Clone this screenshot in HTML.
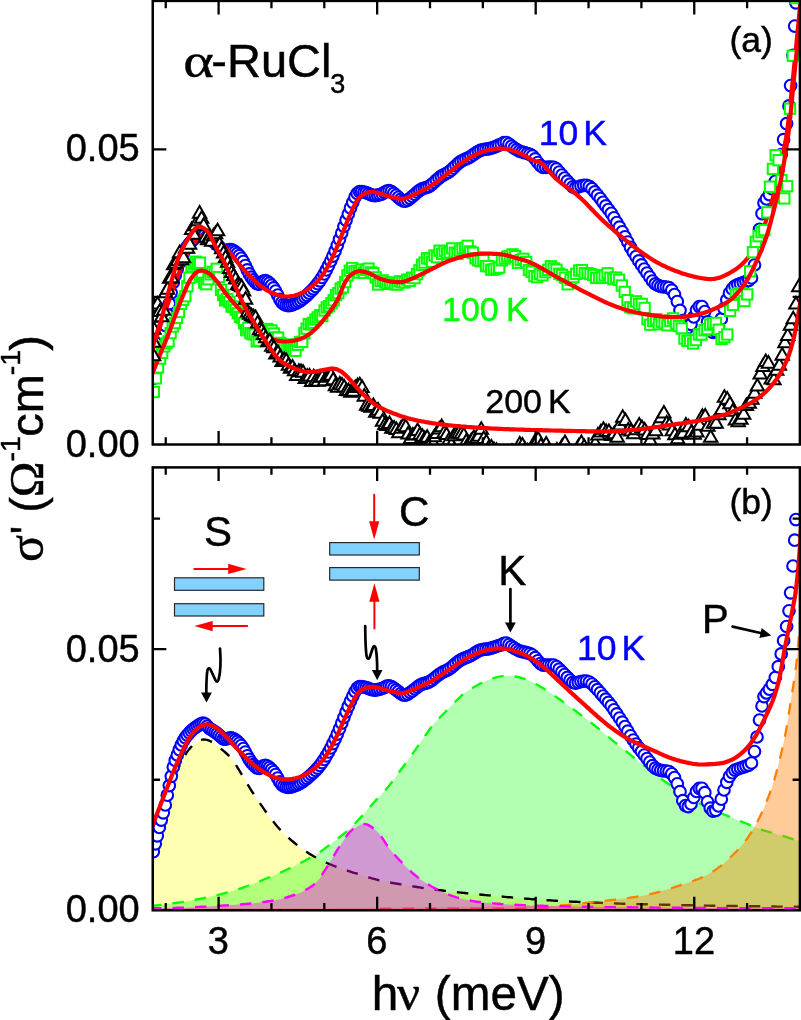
<!DOCTYPE html>
<html><head><meta charset="utf-8"><title>alpha-RuCl3 optical conductivity</title>
<style>html,body{margin:0;padding:0;background:#fff}svg{display:block}text{font-family:"Liberation Sans",sans-serif;fill:#000;stroke:#000;stroke-width:0.45px}.sy{font-family:"Liberation Serif",serif}</style></head><body>
<svg width="801" height="1020" viewBox="0 0 801 1020">
<rect width="801" height="1020" fill="#fff"/>
<defs>
<clipPath id="ca"><rect x="152.75" y="0.9" width="647.15" height="443.6"/></clipPath>
<clipPath id="cb"><rect x="152.75" y="467.4" width="647.15" height="442.9"/></clipPath>
<circle id="c" r="5.8" fill="#fff" stroke="#0000ff" stroke-width="2.1"/>
<rect id="s" x="-5.15" y="-5.15" width="10.3" height="10.3" fill="#fff" stroke="#00ff00" stroke-width="2"/>
<path id="t" d="M0,-7.68 L6.65,3.84 L-6.65,3.84 Z" fill="#fff" stroke="#000" stroke-width="2" stroke-linejoin="miter"/>
</defs>
<g clip-path="url(#ca)">
<g><use href="#c" x="153.3" y="378.3"/><use href="#c" x="155.3" y="369.4"/><use href="#c" x="157.3" y="360.3"/><use href="#c" x="159.3" y="350.9"/><use href="#c" x="161.3" y="342.5"/><use href="#c" x="163.3" y="334.3"/><use href="#c" x="165.3" y="325.5"/><use href="#c" x="167.3" y="314.4"/><use href="#c" x="169.3" y="303.6"/><use href="#c" x="171.3" y="293.0"/><use href="#c" x="173.3" y="282.5"/><use href="#c" x="175.3" y="275.1"/><use href="#c" x="177.3" y="269.0"/><use href="#c" x="179.3" y="262.9"/><use href="#c" x="181.3" y="257.5"/><use href="#c" x="183.3" y="253.1"/><use href="#c" x="185.3" y="249.4"/><use href="#c" x="187.3" y="246.5"/><use href="#c" x="189.3" y="243.9"/><use href="#c" x="191.3" y="241.6"/><use href="#c" x="193.3" y="239.6"/><use href="#c" x="195.3" y="237.8"/><use href="#c" x="197.3" y="236.3"/><use href="#c" x="199.3" y="234.8"/><use href="#c" x="201.3" y="233.6"/><use href="#c" x="203.3" y="233.0"/><use href="#c" x="205.3" y="234.0"/><use href="#c" x="207.3" y="236.4"/><use href="#c" x="209.3" y="238.8"/><use href="#c" x="211.3" y="240.2"/><use href="#c" x="213.3" y="241.6"/><use href="#c" x="215.3" y="243.1"/><use href="#c" x="217.3" y="244.8"/><use href="#c" x="219.3" y="246.8"/><use href="#c" x="221.3" y="248.9"/><use href="#c" x="223.3" y="250.6"/><use href="#c" x="225.3" y="250.9"/><use href="#c" x="227.3" y="250.4"/><use href="#c" x="229.3" y="249.7"/><use href="#c" x="231.3" y="249.5"/><use href="#c" x="233.3" y="250.5"/><use href="#c" x="235.3" y="251.9"/><use href="#c" x="237.3" y="253.6"/><use href="#c" x="239.3" y="255.7"/><use href="#c" x="241.3" y="258.3"/><use href="#c" x="243.3" y="261.6"/><use href="#c" x="245.3" y="265.6"/><use href="#c" x="247.3" y="269.9"/><use href="#c" x="249.3" y="273.9"/><use href="#c" x="251.3" y="277.2"/><use href="#c" x="253.3" y="279.9"/><use href="#c" x="255.3" y="282.1"/><use href="#c" x="257.3" y="283.8"/><use href="#c" x="259.3" y="284.1"/><use href="#c" x="261.4" y="282.8"/><use href="#c" x="263.4" y="281.2"/><use href="#c" x="265.4" y="280.5"/><use href="#c" x="267.5" y="281.5"/><use href="#c" x="269.5" y="283.2"/><use href="#c" x="271.5" y="285.3"/><use href="#c" x="273.6" y="287.9"/><use href="#c" x="275.6" y="291.0"/><use href="#c" x="277.7" y="295.1"/><use href="#c" x="279.8" y="299.3"/><use href="#c" x="281.8" y="302.5"/><use href="#c" x="283.9" y="304.2"/><use href="#c" x="286.0" y="305.2"/><use href="#c" x="288.1" y="305.6"/><use href="#c" x="290.1" y="305.4"/><use href="#c" x="292.2" y="304.8"/><use href="#c" x="294.3" y="304.0"/><use href="#c" x="296.4" y="303.1"/><use href="#c" x="298.5" y="302.0"/><use href="#c" x="300.6" y="300.6"/><use href="#c" x="302.8" y="299.0"/><use href="#c" x="304.9" y="297.2"/><use href="#c" x="307.0" y="295.3"/><use href="#c" x="309.1" y="293.2"/><use href="#c" x="311.3" y="291.0"/><use href="#c" x="313.4" y="288.8"/><use href="#c" x="315.6" y="286.4"/><use href="#c" x="317.7" y="283.7"/><use href="#c" x="319.9" y="280.8"/><use href="#c" x="322.0" y="277.5"/><use href="#c" x="324.2" y="273.9"/><use href="#c" x="326.3" y="269.9"/><use href="#c" x="328.5" y="265.6"/><use href="#c" x="330.7" y="261.0"/><use href="#c" x="332.9" y="256.1"/><use href="#c" x="335.1" y="250.9"/><use href="#c" x="337.3" y="245.3"/><use href="#c" x="339.5" y="239.3"/><use href="#c" x="341.7" y="233.0"/><use href="#c" x="343.9" y="226.5"/><use href="#c" x="346.1" y="220.1"/><use href="#c" x="348.3" y="214.0"/><use href="#c" x="350.5" y="207.9"/><use href="#c" x="352.8" y="202.3"/><use href="#c" x="355.0" y="197.2"/><use href="#c" x="357.2" y="193.4"/><use href="#c" x="359.5" y="191.6"/><use href="#c" x="361.7" y="191.5"/><use href="#c" x="364.0" y="192.1"/><use href="#c" x="366.2" y="192.7"/><use href="#c" x="368.5" y="193.7"/><use href="#c" x="370.8" y="194.6"/><use href="#c" x="373.0" y="195.4"/><use href="#c" x="375.3" y="195.6"/><use href="#c" x="377.6" y="195.1"/><use href="#c" x="379.9" y="194.6"/><use href="#c" x="382.2" y="193.8"/><use href="#c" x="384.5" y="192.4"/><use href="#c" x="386.8" y="191.1"/><use href="#c" x="389.1" y="190.7"/><use href="#c" x="391.4" y="191.7"/><use href="#c" x="393.8" y="193.4"/><use href="#c" x="396.1" y="195.3"/><use href="#c" x="398.4" y="197.3"/><use href="#c" x="400.7" y="199.4"/><use href="#c" x="403.1" y="200.9"/><use href="#c" x="405.4" y="201.2"/><use href="#c" x="407.8" y="200.1"/><use href="#c" x="410.1" y="198.3"/><use href="#c" x="412.5" y="196.4"/><use href="#c" x="414.9" y="194.3"/><use href="#c" x="417.3" y="192.2"/><use href="#c" x="419.6" y="190.3"/><use href="#c" x="422.0" y="188.9"/><use href="#c" x="424.4" y="188.0"/><use href="#c" x="426.8" y="187.3"/><use href="#c" x="429.2" y="186.3"/><use href="#c" x="431.6" y="184.6"/><use href="#c" x="434.0" y="182.5"/><use href="#c" x="436.4" y="180.2"/><use href="#c" x="438.9" y="178.1"/><use href="#c" x="441.3" y="176.2"/><use href="#c" x="443.7" y="174.8"/><use href="#c" x="446.2" y="173.5"/><use href="#c" x="448.6" y="172.1"/><use href="#c" x="451.1" y="170.2"/><use href="#c" x="453.5" y="167.9"/><use href="#c" x="456.0" y="165.5"/><use href="#c" x="458.5" y="163.2"/><use href="#c" x="460.9" y="161.3"/><use href="#c" x="463.4" y="160.0"/><use href="#c" x="465.9" y="158.9"/><use href="#c" x="468.4" y="157.8"/><use href="#c" x="470.9" y="156.4"/><use href="#c" x="473.4" y="154.7"/><use href="#c" x="475.9" y="152.9"/><use href="#c" x="478.4" y="151.3"/><use href="#c" x="480.9" y="150.1"/><use href="#c" x="483.5" y="149.5"/><use href="#c" x="486.0" y="149.2"/><use href="#c" x="488.5" y="148.9"/><use href="#c" x="491.1" y="148.2"/><use href="#c" x="493.6" y="147.4"/><use href="#c" x="496.2" y="146.3"/><use href="#c" x="498.7" y="145.2"/><use href="#c" x="501.3" y="144.3"/><use href="#c" x="503.9" y="142.7"/><use href="#c" x="506.4" y="142.5"/><use href="#c" x="509.0" y="144.0"/><use href="#c" x="511.6" y="146.2"/><use href="#c" x="514.2" y="148.1"/><use href="#c" x="516.8" y="149.7"/><use href="#c" x="519.4" y="151.1"/><use href="#c" x="522.0" y="152.0"/><use href="#c" x="524.6" y="152.7"/><use href="#c" x="527.3" y="153.5"/><use href="#c" x="529.9" y="154.4"/><use href="#c" x="532.5" y="155.9"/><use href="#c" x="535.2" y="158.9"/><use href="#c" x="537.8" y="162.5"/><use href="#c" x="540.5" y="165.7"/><use href="#c" x="543.1" y="167.4"/><use href="#c" x="545.8" y="167.4"/><use href="#c" x="548.5" y="167.2"/><use href="#c" x="551.2" y="167.2"/><use href="#c" x="553.8" y="167.3"/><use href="#c" x="556.5" y="168.9"/><use href="#c" x="559.2" y="172.0"/><use href="#c" x="561.9" y="175.0"/><use href="#c" x="564.6" y="178.1"/><use href="#c" x="567.4" y="181.2"/><use href="#c" x="570.1" y="184.2"/><use href="#c" x="572.8" y="186.8"/><use href="#c" x="575.5" y="187.8"/><use href="#c" x="578.3" y="186.9"/><use href="#c" x="581.0" y="185.9"/><use href="#c" x="583.8" y="185.4"/><use href="#c" x="586.5" y="185.3"/><use href="#c" x="589.3" y="186.4"/><use href="#c" x="592.0" y="188.7"/><use href="#c" x="594.8" y="191.9"/><use href="#c" x="597.5" y="195.2"/><use href="#c" x="600.3" y="198.6"/><use href="#c" x="603.0" y="202.3"/><use href="#c" x="605.8" y="205.9"/><use href="#c" x="608.5" y="209.5"/><use href="#c" x="611.3" y="213.3"/><use href="#c" x="614.0" y="217.8"/><use href="#c" x="616.8" y="222.5"/><use href="#c" x="619.5" y="227.2"/><use href="#c" x="622.3" y="231.8"/><use href="#c" x="625.0" y="236.8"/><use href="#c" x="627.8" y="242.0"/><use href="#c" x="630.5" y="247.3"/><use href="#c" x="633.3" y="252.0"/><use href="#c" x="636.0" y="256.5"/><use href="#c" x="638.8" y="260.9"/><use href="#c" x="641.5" y="264.9"/><use href="#c" x="644.3" y="269.0"/><use href="#c" x="647.0" y="273.0"/><use href="#c" x="649.8" y="277.0"/><use href="#c" x="652.5" y="281.0"/><use href="#c" x="655.3" y="283.9"/><use href="#c" x="658.0" y="285.3"/><use href="#c" x="660.8" y="286.3"/><use href="#c" x="663.5" y="286.8"/><use href="#c" x="666.3" y="287.0"/><use href="#c" x="669.0" y="287.7"/><use href="#c" x="671.8" y="290.2"/><use href="#c" x="674.5" y="294.5"/><use href="#c" x="677.3" y="301.5"/><use href="#c" x="680.0" y="310.4"/><use href="#c" x="682.8" y="320.6"/><use href="#c" x="685.5" y="326.2"/><use href="#c" x="688.3" y="327.3"/><use href="#c" x="691.0" y="324.3"/><use href="#c" x="693.8" y="317.0"/><use href="#c" x="696.5" y="310.1"/><use href="#c" x="699.3" y="306.6"/><use href="#c" x="702.0" y="306.5"/><use href="#c" x="704.8" y="311.5"/><use href="#c" x="707.5" y="321.9"/><use href="#c" x="710.3" y="329.1"/><use href="#c" x="713.0" y="332.4"/><use href="#c" x="715.8" y="331.4"/><use href="#c" x="718.5" y="326.6"/><use href="#c" x="721.3" y="318.9"/><use href="#c" x="724.0" y="308.5"/><use href="#c" x="726.8" y="299.8"/><use href="#c" x="729.5" y="293.2"/><use href="#c" x="732.3" y="288.9"/><use href="#c" x="735.0" y="286.2"/><use href="#c" x="737.8" y="284.7"/><use href="#c" x="740.5" y="283.7"/><use href="#c" x="743.3" y="282.6"/><use href="#c" x="746.0" y="281.5"/><use href="#c" x="748.8" y="280.4"/><use href="#c" x="751.5" y="278.0"/><use href="#c" x="754.5" y="265.0"/><use href="#c" x="757.0" y="248.6"/><use href="#c" x="759.5" y="229.4"/><use href="#c" x="762.0" y="213.6"/><use href="#c" x="764.0" y="202.9"/><use href="#c" x="766.5" y="198.9"/><use href="#c" x="769.4" y="194.6"/><use href="#c" x="772.4" y="189.0"/><use href="#c" x="775.3" y="181.3"/><use href="#c" x="778.3" y="169.1"/><use href="#c" x="781.2" y="154.7"/><use href="#c" x="783.6" y="139.7"/><use href="#c" x="786.6" y="123.7"/><use href="#c" x="789.0" y="105.9"/><use href="#c" x="790.6" y="85.6"/><use href="#c" x="793.0" y="55.3"/><use href="#c" x="794.7" y="26.1"/><use href="#c" x="795.9" y="2.8"/></g>
<path d="M150.0,356.0 L151.5,351.5 L153.0,347.1 L154.5,342.7 L156.0,338.4 L157.5,334.0 L159.0,329.7 L160.5,325.3 L162.0,320.9 L163.5,316.5 L165.0,312.1 L166.5,307.7 L168.0,303.3 L169.5,299.0 L171.0,294.6 L172.5,290.2 L174.0,286.1 L175.5,282.1 L177.0,278.2 L178.5,274.4 L180.0,270.6 L181.5,267.0 L183.0,263.3 L184.5,259.8 L186.0,256.4 L187.5,253.2 L189.0,250.2 L190.5,247.7 L192.0,245.5 L193.5,243.4 L195.0,241.5 L196.5,239.8 L198.0,238.4 L199.5,237.2 L201.0,236.2 L202.5,235.5 L204.0,234.9 L205.5,234.5 L207.0,234.3 L208.5,234.4 L210.0,234.9 L211.5,235.5 L213.0,236.3 L214.5,237.1 L216.0,238.1 L217.5,239.3 L219.0,240.8 L220.5,242.3 L222.0,243.9 L223.5,245.5 L225.0,247.2 L226.5,249.0 L228.0,250.8 L229.5,252.6 L231.0,254.4 L232.5,256.3 L234.0,258.1 L235.5,259.9 L237.0,261.7 L238.5,263.5 L240.0,265.2 L241.5,266.9 L243.0,268.6 L244.5,270.3 L246.0,272.0 L247.5,273.6 L249.0,275.2 L250.5,276.8 L252.0,278.4 L253.5,279.8 L255.0,281.2 L256.5,282.5 L258.0,283.8 L259.5,285.0 L261.0,286.2 L262.5,287.3 L264.0,288.4 L265.5,289.4 L267.0,290.4 L268.5,291.2 L270.0,292.0 L271.5,292.8 L273.0,293.4 L274.5,294.1 L276.0,294.6 L277.5,295.1 L279.0,295.5 L280.5,295.9 L282.0,296.2 L283.5,296.3 L285.0,296.5 L286.5,296.5 L288.0,296.5 L289.5,296.4 L291.0,296.2 L292.5,296.0 L294.0,295.7 L295.5,295.3 L297.0,294.8 L298.5,294.3 L300.0,293.7 L301.5,293.0 L303.0,292.3 L304.5,291.4 L306.0,290.5 L307.5,289.5 L309.0,288.4 L310.5,287.3 L312.0,286.1 L313.5,284.9 L315.0,283.6 L316.5,282.2 L318.0,280.6 L319.5,278.9 L321.0,277.1 L322.5,275.1 L324.0,272.9 L325.5,270.5 L327.0,268.0 L328.5,265.2 L330.0,262.4 L331.5,259.3 L333.0,256.1 L334.5,252.8 L336.0,249.4 L337.5,245.9 L339.0,242.2 L340.5,238.4 L342.0,234.6 L343.5,230.8 L345.0,227.0 L346.5,223.2 L348.0,219.6 L349.5,216.0 L351.0,212.6 L352.5,209.2 L354.0,206.1 L355.5,203.1 L357.0,200.6 L358.5,198.5 L360.0,196.9 L361.5,195.6 L363.0,194.6 L364.5,193.8 L366.0,193.1 L367.5,192.6 L369.0,192.3 L370.5,192.1 L372.0,191.9 L373.5,191.9 L375.0,192.2 L376.5,192.5 L378.0,192.9 L379.5,193.3 L381.0,193.8 L382.5,194.3 L384.0,194.8 L385.5,195.3 L387.0,195.8 L388.5,196.2 L390.0,196.6 L391.5,197.0 L393.0,197.4 L394.5,197.8 L396.0,198.1 L397.5,198.4 L399.0,198.7 L400.5,198.8 L402.0,198.9 L403.5,198.7 L405.0,198.4 L406.5,198.0 L408.0,197.4 L409.5,196.8 L411.0,196.1 L412.5,195.4 L414.0,194.7 L415.5,194.0 L417.0,193.2 L418.5,192.5 L420.0,191.7 L421.5,191.0 L423.0,190.2 L424.5,189.5 L426.0,188.7 L427.5,187.8 L429.0,187.0 L430.5,186.0 L432.0,185.1 L433.5,184.1 L435.0,183.1 L436.5,182.0 L438.0,180.9 L439.5,179.8 L441.0,178.7 L442.5,177.5 L444.0,176.3 L445.5,175.2 L447.0,174.0 L448.5,172.8 L450.0,171.7 L451.5,170.5 L453.0,169.4 L454.5,168.2 L456.0,167.1 L457.5,166.0 L459.0,164.9 L460.5,163.8 L462.0,162.8 L463.5,161.7 L465.0,160.7 L466.5,159.6 L468.0,158.7 L469.5,157.8 L471.0,157.0 L472.5,156.2 L474.0,155.4 L475.5,154.7 L477.0,154.0 L478.5,153.3 L480.0,152.7 L481.5,152.2 L483.0,151.6 L484.5,151.1 L486.0,150.7 L487.5,150.3 L489.0,149.9 L490.5,149.6 L492.0,149.3 L493.5,149.0 L495.0,148.8 L496.5,148.7 L498.0,148.6 L499.5,148.5 L501.0,148.5 L502.5,148.6 L504.0,148.7 L505.5,148.9 L507.0,149.2 L508.5,149.5 L510.0,149.9 L511.5,150.3 L513.0,150.8 L514.5,151.3 L516.0,151.8 L517.5,152.4 L519.0,153.0 L520.5,153.7 L522.0,154.4 L523.5,155.1 L525.0,155.9 L526.5,156.7 L528.0,157.6 L529.5,158.5 L531.0,159.4 L532.5,160.1 L534.0,160.7 L535.5,161.1 L537.0,161.4 L538.5,161.8 L540.0,162.3 L541.5,163.1 L543.0,164.3 L544.5,165.9 L546.0,167.6 L547.5,169.3 L549.0,171.1 L550.5,172.8 L552.0,174.5 L553.5,176.1 L555.0,177.7 L556.5,179.1 L558.0,180.4 L559.5,181.6 L561.0,182.8 L562.5,184.0 L564.0,185.1 L565.5,186.2 L567.0,187.3 L568.5,188.3 L570.0,189.4 L571.5,190.5 L573.0,191.7 L574.5,192.8 L576.0,194.0 L577.5,195.3 L579.0,196.6 L580.5,198.0 L582.0,199.4 L583.5,200.8 L585.0,202.3 L586.5,203.8 L588.0,205.4 L589.5,206.9 L591.0,208.5 L592.5,210.0 L594.0,211.6 L595.5,213.2 L597.0,214.7 L598.5,216.2 L600.0,217.7 L601.5,219.2 L603.0,220.6 L604.5,222.0 L606.0,223.4 L607.5,224.8 L609.0,226.1 L610.5,227.4 L612.0,228.7 L613.5,230.0 L615.0,231.3 L616.5,232.6 L618.0,233.9 L619.5,235.2 L621.0,236.4 L622.5,237.6 L624.0,238.9 L625.5,240.1 L627.0,241.3 L628.5,242.5 L630.0,243.7 L631.5,244.9 L633.0,246.0 L634.5,247.2 L636.0,248.3 L637.5,249.5 L639.0,250.6 L640.5,251.6 L642.0,252.7 L643.5,253.8 L645.0,254.8 L646.5,255.8 L648.0,256.8 L649.5,257.8 L651.0,258.7 L652.5,259.7 L654.0,260.6 L655.5,261.5 L657.0,262.4 L658.5,263.2 L660.0,264.0 L661.5,264.8 L663.0,265.5 L664.5,266.2 L666.0,266.9 L667.5,267.6 L669.0,268.2 L670.5,268.9 L672.0,269.5 L673.5,270.1 L675.0,270.7 L676.5,271.2 L678.0,271.8 L679.5,272.3 L681.0,272.9 L682.5,273.4 L684.0,273.9 L685.5,274.3 L687.0,274.8 L688.5,275.2 L690.0,275.6 L691.5,276.0 L693.0,276.4 L694.5,276.7 L696.0,277.1 L697.5,277.4 L699.0,277.7 L700.5,278.0 L702.0,278.2 L703.5,278.5 L705.0,278.7 L706.5,278.9 L708.0,279.0 L709.5,279.1 L711.0,279.1 L712.5,279.0 L714.0,278.9 L715.5,278.6 L717.0,278.3 L718.5,277.9 L720.0,277.4 L721.5,276.9 L723.0,276.3 L724.5,275.6 L726.0,274.9 L727.5,274.1 L729.0,273.3 L730.5,272.5 L732.0,271.6 L733.5,270.7 L735.0,269.7 L736.5,268.7 L738.0,267.6 L739.5,266.5 L741.0,265.2 L742.5,263.7 L744.0,262.2 L745.5,260.6 L747.0,258.8 L748.5,257.0 L750.0,255.0 L751.5,252.7 L753.0,250.3 L754.5,247.7 L756.0,244.9 L757.5,242.1 L759.0,239.1 L760.5,235.8 L762.0,232.2 L763.5,228.3 L765.0,223.9 L766.5,219.2 L768.0,214.4 L769.5,209.3 L771.0,204.2 L772.5,199.0 L774.0,193.7 L775.5,188.1 L777.0,182.0 L778.5,175.6 L780.0,168.9 L781.5,162.0 L783.0,154.5 L784.5,146.5 L786.0,138.1 L787.5,128.3 L789.0,116.0 L790.5,102.0 L792.0,87.7 L793.5,73.0 L795.0,58.0 L796.5,42.9 L798.0,27.6 L799.5,12.0 L801.0,-4.1" fill="none" stroke="#f00" stroke-width="4.2" stroke-linejoin="round"/>
<g><use href="#s" x="153.8" y="392.0"/><use href="#s" x="155.9" y="378.4"/><use href="#s" x="158.0" y="367.4"/><use href="#s" x="160.1" y="358.6"/><use href="#s" x="162.2" y="352.9"/><use href="#s" x="164.3" y="346.4"/><use href="#s" x="166.4" y="343.3"/><use href="#s" x="168.5" y="341.4"/><use href="#s" x="170.6" y="333.1"/><use href="#s" x="172.7" y="326.6"/><use href="#s" x="174.8" y="323.1"/><use href="#s" x="176.9" y="317.9"/><use href="#s" x="179.0" y="311.9"/><use href="#s" x="181.1" y="303.9"/><use href="#s" x="183.2" y="299.7"/><use href="#s" x="185.3" y="296.2"/><use href="#s" x="187.4" y="286.2"/><use href="#s" x="189.5" y="277.7"/><use href="#s" x="191.6" y="266.2"/><use href="#s" x="193.7" y="263.6"/><use href="#s" x="195.8" y="261.7"/><use href="#s" x="197.9" y="264.2"/><use href="#s" x="200.0" y="262.7"/><use href="#s" x="202.1" y="276.7"/><use href="#s" x="204.2" y="282.8"/><use href="#s" x="206.3" y="284.2"/><use href="#s" x="208.4" y="279.3"/><use href="#s" x="210.5" y="274.3"/><use href="#s" x="212.6" y="271.9"/><use href="#s" x="214.7" y="272.2"/><use href="#s" x="216.8" y="268.8"/><use href="#s" x="218.9" y="277.1"/><use href="#s" x="221.0" y="289.9"/><use href="#s" x="223.1" y="294.9"/><use href="#s" x="225.2" y="300.5"/><use href="#s" x="227.3" y="299.1"/><use href="#s" x="229.4" y="302.0"/><use href="#s" x="231.5" y="306.5"/><use href="#s" x="233.6" y="306.7"/><use href="#s" x="235.7" y="309.7"/><use href="#s" x="237.8" y="313.3"/><use href="#s" x="239.9" y="316.8"/><use href="#s" x="242.0" y="317.8"/><use href="#s" x="244.1" y="323.3"/><use href="#s" x="246.2" y="330.2"/><use href="#s" x="248.3" y="327.9"/><use href="#s" x="250.4" y="333.2"/><use href="#s" x="252.5" y="334.2"/><use href="#s" x="254.6" y="334.4"/><use href="#s" x="256.7" y="341.4"/><use href="#s" x="258.8" y="340.6"/><use href="#s" x="261.0" y="334.4"/><use href="#s" x="263.1" y="333.0"/><use href="#s" x="265.2" y="331.8"/><use href="#s" x="267.3" y="329.0"/><use href="#s" x="269.5" y="330.7"/><use href="#s" x="271.6" y="330.6"/><use href="#s" x="273.8" y="333.5"/><use href="#s" x="275.9" y="337.5"/><use href="#s" x="278.1" y="337.7"/><use href="#s" x="280.3" y="342.9"/><use href="#s" x="282.4" y="344.8"/><use href="#s" x="284.6" y="346.5"/><use href="#s" x="286.8" y="344.5"/><use href="#s" x="289.0" y="345.5"/><use href="#s" x="291.1" y="346.8"/><use href="#s" x="293.3" y="349.5"/><use href="#s" x="295.5" y="350.8"/><use href="#s" x="297.7" y="344.8"/><use href="#s" x="299.9" y="342.0"/><use href="#s" x="302.2" y="341.9"/><use href="#s" x="304.4" y="333.2"/><use href="#s" x="306.6" y="328.7"/><use href="#s" x="308.8" y="324.0"/><use href="#s" x="311.1" y="324.4"/><use href="#s" x="313.3" y="322.8"/><use href="#s" x="315.5" y="319.5"/><use href="#s" x="317.8" y="317.4"/><use href="#s" x="320.1" y="315.2"/><use href="#s" x="322.3" y="316.2"/><use href="#s" x="324.6" y="310.5"/><use href="#s" x="326.8" y="307.4"/><use href="#s" x="329.1" y="306.2"/><use href="#s" x="331.4" y="303.2"/><use href="#s" x="333.7" y="300.3"/><use href="#s" x="336.0" y="295.1"/><use href="#s" x="338.3" y="293.1"/><use href="#s" x="340.6" y="288.6"/><use href="#s" x="342.9" y="287.3"/><use href="#s" x="345.2" y="282.0"/><use href="#s" x="347.5" y="275.4"/><use href="#s" x="349.8" y="270.7"/><use href="#s" x="352.2" y="268.0"/><use href="#s" x="354.5" y="271.4"/><use href="#s" x="356.8" y="270.9"/><use href="#s" x="359.2" y="272.5"/><use href="#s" x="361.5" y="269.6"/><use href="#s" x="363.9" y="272.7"/><use href="#s" x="366.2" y="269.8"/><use href="#s" x="368.6" y="268.6"/><use href="#s" x="371.0" y="272.4"/><use href="#s" x="373.3" y="273.2"/><use href="#s" x="375.7" y="277.4"/><use href="#s" x="378.1" y="284.5"/><use href="#s" x="380.5" y="280.8"/><use href="#s" x="382.9" y="280.5"/><use href="#s" x="385.3" y="282.5"/><use href="#s" x="387.7" y="283.9"/><use href="#s" x="390.1" y="282.9"/><use href="#s" x="392.5" y="282.6"/><use href="#s" x="395.0" y="284.3"/><use href="#s" x="397.4" y="284.5"/><use href="#s" x="399.8" y="281.3"/><use href="#s" x="402.3" y="282.2"/><use href="#s" x="404.7" y="282.4"/><use href="#s" x="407.2" y="279.6"/><use href="#s" x="409.6" y="281.0"/><use href="#s" x="412.1" y="277.7"/><use href="#s" x="414.5" y="278.1"/><use href="#s" x="417.0" y="274.1"/><use href="#s" x="419.5" y="270.3"/><use href="#s" x="422.0" y="264.8"/><use href="#s" x="424.5" y="262.6"/><use href="#s" x="427.0" y="258.3"/><use href="#s" x="429.5" y="258.7"/><use href="#s" x="432.0" y="261.7"/><use href="#s" x="434.5" y="255.5"/><use href="#s" x="437.0" y="257.2"/><use href="#s" x="439.5" y="250.7"/><use href="#s" x="442.1" y="253.8"/><use href="#s" x="444.6" y="251.0"/><use href="#s" x="447.1" y="253.3"/><use href="#s" x="449.7" y="252.4"/><use href="#s" x="452.2" y="248.4"/><use href="#s" x="454.8" y="252.7"/><use href="#s" x="457.4" y="253.9"/><use href="#s" x="459.9" y="250.5"/><use href="#s" x="462.5" y="248.6"/><use href="#s" x="465.1" y="247.9"/><use href="#s" x="467.7" y="245.8"/><use href="#s" x="470.3" y="251.4"/><use href="#s" x="472.9" y="252.7"/><use href="#s" x="475.5" y="258.3"/><use href="#s" x="478.1" y="260.3"/><use href="#s" x="480.7" y="261.1"/><use href="#s" x="483.4" y="260.3"/><use href="#s" x="486.0" y="266.1"/><use href="#s" x="488.6" y="266.2"/><use href="#s" x="491.3" y="269.7"/><use href="#s" x="493.9" y="269.5"/><use href="#s" x="496.6" y="268.6"/><use href="#s" x="499.2" y="267.6"/><use href="#s" x="501.9" y="260.3"/><use href="#s" x="504.6" y="258.5"/><use href="#s" x="507.2" y="256.6"/><use href="#s" x="509.9" y="256.1"/><use href="#s" x="512.6" y="254.4"/><use href="#s" x="515.3" y="256.2"/><use href="#s" x="518.0" y="262.7"/><use href="#s" x="520.7" y="260.0"/><use href="#s" x="523.4" y="258.8"/><use href="#s" x="526.2" y="262.1"/><use href="#s" x="528.9" y="270.0"/><use href="#s" x="531.6" y="271.7"/><use href="#s" x="534.4" y="276.1"/><use href="#s" x="537.1" y="277.2"/><use href="#s" x="539.9" y="274.0"/><use href="#s" x="542.6" y="275.3"/><use href="#s" x="545.4" y="272.2"/><use href="#s" x="548.2" y="269.9"/><use href="#s" x="550.9" y="266.3"/><use href="#s" x="553.7" y="268.4"/><use href="#s" x="556.5" y="269.7"/><use href="#s" x="559.3" y="273.7"/><use href="#s" x="562.1" y="275.0"/><use href="#s" x="564.9" y="277.7"/><use href="#s" x="567.7" y="284.3"/><use href="#s" x="570.6" y="279.7"/><use href="#s" x="573.4" y="277.1"/><use href="#s" x="576.2" y="273.8"/><use href="#s" x="579.1" y="270.5"/><use href="#s" x="581.9" y="270.1"/><use href="#s" x="584.8" y="273.2"/><use href="#s" x="587.6" y="273.1"/><use href="#s" x="590.5" y="274.1"/><use href="#s" x="593.3" y="275.0"/><use href="#s" x="596.2" y="277.9"/><use href="#s" x="599.0" y="277.9"/><use href="#s" x="601.9" y="277.4"/><use href="#s" x="604.7" y="275.4"/><use href="#s" x="607.6" y="273.3"/><use href="#s" x="610.4" y="277.7"/><use href="#s" x="613.3" y="279.2"/><use href="#s" x="616.1" y="277.6"/><use href="#s" x="619.0" y="279.8"/><use href="#s" x="621.8" y="285.5"/><use href="#s" x="624.7" y="291.9"/><use href="#s" x="627.5" y="300.2"/><use href="#s" x="630.4" y="307.3"/><use href="#s" x="633.2" y="308.3"/><use href="#s" x="636.1" y="301.3"/><use href="#s" x="638.9" y="304.0"/><use href="#s" x="641.8" y="303.9"/><use href="#s" x="644.6" y="307.9"/><use href="#s" x="647.5" y="319.2"/><use href="#s" x="650.3" y="324.7"/><use href="#s" x="653.2" y="320.8"/><use href="#s" x="656.0" y="319.2"/><use href="#s" x="658.9" y="324.2"/><use href="#s" x="661.7" y="321.7"/><use href="#s" x="664.6" y="323.1"/><use href="#s" x="667.4" y="325.3"/><use href="#s" x="670.3" y="320.7"/><use href="#s" x="673.1" y="318.4"/><use href="#s" x="676.0" y="323.4"/><use href="#s" x="678.8" y="326.0"/><use href="#s" x="681.7" y="328.4"/><use href="#s" x="684.5" y="338.6"/><use href="#s" x="687.4" y="340.8"/><use href="#s" x="690.2" y="340.8"/><use href="#s" x="693.1" y="343.5"/><use href="#s" x="695.9" y="340.1"/><use href="#s" x="698.8" y="334.4"/><use href="#s" x="701.6" y="334.5"/><use href="#s" x="704.5" y="330.3"/><use href="#s" x="707.3" y="329.1"/><use href="#s" x="710.2" y="324.6"/><use href="#s" x="713.0" y="323.3"/><use href="#s" x="715.9" y="322.9"/><use href="#s" x="718.7" y="329.7"/><use href="#s" x="721.6" y="339.0"/><use href="#s" x="724.4" y="337.2"/><use href="#s" x="727.3" y="334.5"/><use href="#s" x="730.1" y="310.9"/><use href="#s" x="733.0" y="304.9"/><use href="#s" x="735.8" y="294.7"/><use href="#s" x="738.7" y="293.7"/><use href="#s" x="741.5" y="293.0"/><use href="#s" x="744.4" y="301.0"/><use href="#s" x="747.2" y="294.4"/><use href="#s" x="750.1" y="271.3"/><use href="#s" x="752.9" y="252.2"/><use href="#s" x="755.8" y="241.9"/><use href="#s" x="758.6" y="236.2"/><use href="#s" x="761.5" y="232.1"/><use href="#s" x="764.3" y="230.1"/><use href="#s" x="767.2" y="212.4"/><use href="#s" x="770.0" y="186.7"/><use href="#s" x="772.9" y="168.9"/><use href="#s" x="775.7" y="155.2"/><use href="#s" x="778.6" y="160.2"/><use href="#s" x="781.4" y="180.0"/><use href="#s" x="784.3" y="198.4"/><use href="#s" x="787.1" y="186.2"/><use href="#s" x="790.0" y="108.7"/><use href="#s" x="792.8" y="55.7"/><use href="#s" x="795.7" y="-1.9"/><use href="#s" x="798.5" y="-39.4"/></g>
<path d="M150.0,380.8 L151.5,376.1 L153.0,372.0 L154.5,368.3 L156.0,364.5 L157.5,360.8 L159.0,357.2 L160.5,353.5 L162.0,349.8 L163.5,346.2 L165.0,342.6 L166.5,339.0 L168.0,335.3 L169.5,331.5 L171.0,327.4 L172.5,323.2 L174.0,318.9 L175.5,314.9 L177.0,310.9 L178.5,307.0 L180.0,303.1 L181.5,299.2 L183.0,295.5 L184.5,291.9 L186.0,288.4 L187.5,285.0 L189.0,282.0 L190.5,279.4 L192.0,277.2 L193.5,275.2 L195.0,273.6 L196.5,272.3 L198.0,271.4 L199.5,270.8 L201.0,270.6 L202.5,270.7 L204.0,271.0 L205.5,271.6 L207.0,272.3 L208.5,273.1 L210.0,274.1 L211.5,275.3 L213.0,276.8 L214.5,278.5 L216.0,280.3 L217.5,282.1 L219.0,284.1 L220.5,286.2 L222.0,288.3 L223.5,290.4 L225.0,292.4 L226.5,294.3 L228.0,296.2 L229.5,298.0 L231.0,299.8 L232.5,301.5 L234.0,303.2 L235.5,304.9 L237.0,306.5 L238.5,308.2 L240.0,309.9 L241.5,311.6 L243.0,313.3 L244.5,315.0 L246.0,316.7 L247.5,318.3 L249.0,319.9 L250.5,321.5 L252.0,323.2 L253.5,324.7 L255.0,326.3 L256.5,327.8 L258.0,329.3 L259.5,330.8 L261.0,332.2 L262.5,333.6 L264.0,334.9 L265.5,335.9 L267.0,336.9 L268.5,337.7 L270.0,338.3 L271.5,338.9 L273.0,339.4 L274.5,339.9 L276.0,340.3 L277.5,340.6 L279.0,340.9 L280.5,341.2 L282.0,341.3 L283.5,341.5 L285.0,341.5 L286.5,341.5 L288.0,341.5 L289.5,341.3 L291.0,341.2 L292.5,340.9 L294.0,340.7 L295.5,340.3 L297.0,339.9 L298.5,339.5 L300.0,339.0 L301.5,338.4 L303.0,337.8 L304.5,337.1 L306.0,336.2 L307.5,335.3 L309.0,334.3 L310.5,333.2 L312.0,332.0 L313.5,330.7 L315.0,329.3 L316.5,327.7 L318.0,326.1 L319.5,324.5 L321.0,322.8 L322.5,321.0 L324.0,319.2 L325.5,317.4 L327.0,315.5 L328.5,313.5 L330.0,311.5 L331.5,309.3 L333.0,307.1 L334.5,304.8 L336.0,302.4 L337.5,300.0 L339.0,297.0 L340.5,293.3 L342.0,289.3 L343.5,285.5 L345.0,282.4 L346.5,280.0 L348.0,277.9 L349.5,276.2 L351.0,274.8 L352.5,273.7 L354.0,272.8 L355.5,272.1 L357.0,271.5 L358.5,271.2 L360.0,271.2 L361.5,271.4 L363.0,271.6 L364.5,271.9 L366.0,272.3 L367.5,272.8 L369.0,273.3 L370.5,273.9 L372.0,274.6 L373.5,275.4 L375.0,276.3 L376.5,277.1 L378.0,277.8 L379.5,278.5 L381.0,279.1 L382.5,279.6 L384.0,280.0 L385.5,280.4 L387.0,280.8 L388.5,281.1 L390.0,281.4 L391.5,281.6 L393.0,281.8 L394.5,281.9 L396.0,282.1 L397.5,282.1 L399.0,282.1 L400.5,282.1 L402.0,281.9 L403.5,281.6 L405.0,281.2 L406.5,280.7 L408.0,280.2 L409.5,279.6 L411.0,279.0 L412.5,278.4 L414.0,277.8 L415.5,277.1 L417.0,276.4 L418.5,275.7 L420.0,274.9 L421.5,274.2 L423.0,273.5 L424.5,272.7 L426.0,272.0 L427.5,271.2 L429.0,270.5 L430.5,269.7 L432.0,269.0 L433.5,268.2 L435.0,267.5 L436.5,266.7 L438.0,265.9 L439.5,265.2 L441.0,264.4 L442.5,263.7 L444.0,262.9 L445.5,262.3 L447.0,261.6 L448.5,261.0 L450.0,260.4 L451.5,259.9 L453.0,259.4 L454.5,258.9 L456.0,258.4 L457.5,257.9 L459.0,257.5 L460.5,257.1 L462.0,256.7 L463.5,256.3 L465.0,256.0 L466.5,255.7 L468.0,255.4 L469.5,255.1 L471.0,254.8 L472.5,254.6 L474.0,254.3 L475.5,254.1 L477.0,254.0 L478.5,253.8 L480.0,253.7 L481.5,253.6 L483.0,253.6 L484.5,253.5 L486.0,253.5 L487.5,253.5 L489.0,253.6 L490.5,253.6 L492.0,253.7 L493.5,253.8 L495.0,253.8 L496.5,253.9 L498.0,254.0 L499.5,254.2 L501.0,254.3 L502.5,254.5 L504.0,254.8 L505.5,255.1 L507.0,255.4 L508.5,255.8 L510.0,256.2 L511.5,256.6 L513.0,257.0 L514.5,257.5 L516.0,257.9 L517.5,258.4 L519.0,258.8 L520.5,259.2 L522.0,259.7 L523.5,260.1 L525.0,260.6 L526.5,261.1 L528.0,261.6 L529.5,262.2 L531.0,262.8 L532.5,263.5 L534.0,264.2 L535.5,265.0 L537.0,265.7 L538.5,266.5 L540.0,267.4 L541.5,268.2 L543.0,269.1 L544.5,269.9 L546.0,270.8 L547.5,271.7 L549.0,272.6 L550.5,273.4 L552.0,274.3 L553.5,275.2 L555.0,276.0 L556.5,276.8 L558.0,277.7 L559.5,278.5 L561.0,279.3 L562.5,280.1 L564.0,280.9 L565.5,281.7 L567.0,282.5 L568.5,283.4 L570.0,284.2 L571.5,285.0 L573.0,285.8 L574.5,286.6 L576.0,287.4 L577.5,288.2 L579.0,289.0 L580.5,289.8 L582.0,290.6 L583.5,291.3 L585.0,292.1 L586.5,292.9 L588.0,293.7 L589.5,294.4 L591.0,295.2 L592.5,295.9 L594.0,296.7 L595.5,297.4 L597.0,298.2 L598.5,298.9 L600.0,299.6 L601.5,300.3 L603.0,301.0 L604.5,301.8 L606.0,302.5 L607.5,303.1 L609.0,303.8 L610.5,304.4 L612.0,305.1 L613.5,305.6 L615.0,306.2 L616.5,306.8 L618.0,307.3 L619.5,307.8 L621.0,308.3 L622.5,308.8 L624.0,309.3 L625.5,309.7 L627.0,310.2 L628.5,310.6 L630.0,311.0 L631.5,311.4 L633.0,311.8 L634.5,312.1 L636.0,312.5 L637.5,312.8 L639.0,313.1 L640.5,313.4 L642.0,313.7 L643.5,314.0 L645.0,314.2 L646.5,314.5 L648.0,314.7 L649.5,314.9 L651.0,315.2 L652.5,315.4 L654.0,315.6 L655.5,315.8 L657.0,315.9 L658.5,316.1 L660.0,316.3 L661.5,316.4 L663.0,316.6 L664.5,316.7 L666.0,316.8 L667.5,316.9 L669.0,316.9 L670.5,317.0 L672.0,317.0 L673.5,317.1 L675.0,317.1 L676.5,317.1 L678.0,317.1 L679.5,317.0 L681.0,317.0 L682.5,316.9 L684.0,316.8 L685.5,316.6 L687.0,316.4 L688.5,316.2 L690.0,316.0 L691.5,315.8 L693.0,315.5 L694.5,315.2 L696.0,314.9 L697.5,314.5 L699.0,314.2 L700.5,313.8 L702.0,313.4 L703.5,313.0 L705.0,312.5 L706.5,312.0 L708.0,311.5 L709.5,310.9 L711.0,310.3 L712.5,309.7 L714.0,309.0 L715.5,308.4 L717.0,307.7 L718.5,307.0 L720.0,306.2 L721.5,305.5 L723.0,304.6 L724.5,303.8 L726.0,302.9 L727.5,301.9 L729.0,300.9 L730.5,299.8 L732.0,298.6 L733.5,297.2 L735.0,295.7 L736.5,294.0 L738.0,292.3 L739.5,290.6 L741.0,288.8 L742.5,286.8 L744.0,284.7 L745.5,282.5 L747.0,280.2 L748.5,277.6 L750.0,274.8 L751.5,271.9 L753.0,268.8 L754.5,265.6 L756.0,262.4 L757.5,259.1 L759.0,255.7 L760.5,252.3 L762.0,248.6 L763.5,244.8 L765.0,240.8 L766.5,236.5 L768.0,231.7 L769.5,226.5 L771.0,221.0 L772.5,215.3 L774.0,209.4 L775.5,203.3 L777.0,197.2 L778.5,190.7 L780.0,184.0 L781.5,176.8 L783.0,168.7 L784.5,159.5 L786.0,149.8 L787.5,139.9 L789.0,129.0 L790.5,114.9 L792.0,99.5 L793.5,83.8 L795.0,68.2 L796.5,52.9 L798.0,37.7 L799.5,22.4 L801.0,6.7" fill="none" stroke="#f00" stroke-width="4.2" stroke-linejoin="round"/>
<g><use href="#t" x="153.6" y="356.5"/><use href="#t" x="153.8" y="343.0"/><use href="#t" x="154.0" y="330.0"/><use href="#t" x="154.2" y="318.0"/><use href="#t" x="154.5" y="307.0"/><use href="#t" x="157.6" y="304.7"/><use href="#t" x="159.6" y="312.1"/><use href="#t" x="161.6" y="317.4"/><use href="#t" x="163.6" y="310.9"/><use href="#t" x="165.6" y="293.3"/><use href="#t" x="167.6" y="289.8"/><use href="#t" x="169.6" y="279.0"/><use href="#t" x="171.6" y="278.3"/><use href="#t" x="173.6" y="265.5"/><use href="#t" x="175.6" y="263.9"/><use href="#t" x="177.6" y="261.3"/><use href="#t" x="179.6" y="253.4"/><use href="#t" x="181.6" y="260.4"/><use href="#t" x="183.6" y="258.4"/><use href="#t" x="185.6" y="248.7"/><use href="#t" x="187.6" y="249.0"/><use href="#t" x="189.6" y="244.9"/><use href="#t" x="191.6" y="230.2"/><use href="#t" x="193.6" y="234.8"/><use href="#t" x="195.6" y="226.3"/><use href="#t" x="197.6" y="221.5"/><use href="#t" x="199.6" y="213.8"/><use href="#t" x="201.6" y="218.9"/><use href="#t" x="203.6" y="226.0"/><use href="#t" x="205.6" y="237.9"/><use href="#t" x="207.6" y="240.4"/><use href="#t" x="209.6" y="238.9"/><use href="#t" x="211.6" y="241.9"/><use href="#t" x="213.6" y="236.4"/><use href="#t" x="215.6" y="234.3"/><use href="#t" x="217.6" y="231.4"/><use href="#t" x="219.6" y="244.9"/><use href="#t" x="221.6" y="249.5"/><use href="#t" x="223.6" y="253.7"/><use href="#t" x="225.6" y="258.2"/><use href="#t" x="227.6" y="262.9"/><use href="#t" x="229.6" y="269.2"/><use href="#t" x="231.6" y="273.2"/><use href="#t" x="233.6" y="276.5"/><use href="#t" x="235.6" y="279.6"/><use href="#t" x="237.6" y="285.4"/><use href="#t" x="239.6" y="286.1"/><use href="#t" x="241.6" y="287.5"/><use href="#t" x="243.6" y="291.6"/><use href="#t" x="245.6" y="299.8"/><use href="#t" x="247.6" y="312.6"/><use href="#t" x="249.6" y="314.9"/><use href="#t" x="251.6" y="316.4"/><use href="#t" x="253.6" y="317.5"/><use href="#t" x="255.6" y="318.1"/><use href="#t" x="257.6" y="323.7"/><use href="#t" x="259.6" y="330.2"/><use href="#t" x="261.7" y="331.5"/><use href="#t" x="263.7" y="335.1"/><use href="#t" x="265.7" y="338.5"/><use href="#t" x="267.8" y="342.4"/><use href="#t" x="269.8" y="341.4"/><use href="#t" x="271.8" y="346.8"/><use href="#t" x="273.9" y="348.4"/><use href="#t" x="275.9" y="354.7"/><use href="#t" x="278.0" y="353.3"/><use href="#t" x="280.1" y="357.7"/><use href="#t" x="282.1" y="362.2"/><use href="#t" x="284.2" y="360.2"/><use href="#t" x="286.3" y="361.2"/><use href="#t" x="288.4" y="366.0"/><use href="#t" x="290.5" y="368.8"/><use href="#t" x="292.5" y="367.8"/><use href="#t" x="294.6" y="371.4"/><use href="#t" x="296.7" y="376.2"/><use href="#t" x="298.9" y="372.0"/><use href="#t" x="301.0" y="372.3"/><use href="#t" x="303.1" y="373.0"/><use href="#t" x="305.2" y="379.1"/><use href="#t" x="307.3" y="377.0"/><use href="#t" x="309.5" y="376.6"/><use href="#t" x="311.6" y="382.1"/><use href="#t" x="313.7" y="377.5"/><use href="#t" x="315.9" y="381.0"/><use href="#t" x="318.0" y="381.8"/><use href="#t" x="320.2" y="377.9"/><use href="#t" x="322.3" y="377.7"/><use href="#t" x="324.5" y="381.5"/><use href="#t" x="326.7" y="377.9"/><use href="#t" x="328.8" y="377.1"/><use href="#t" x="331.0" y="376.0"/><use href="#t" x="333.2" y="380.4"/><use href="#t" x="335.4" y="386.3"/><use href="#t" x="337.6" y="387.8"/><use href="#t" x="339.8" y="384.8"/><use href="#t" x="342.0" y="385.6"/><use href="#t" x="344.2" y="387.7"/><use href="#t" x="346.4" y="391.2"/><use href="#t" x="348.6" y="391.5"/><use href="#t" x="350.9" y="392.8"/><use href="#t" x="353.1" y="392.0"/><use href="#t" x="355.3" y="388.1"/><use href="#t" x="357.6" y="386.3"/><use href="#t" x="359.8" y="385.5"/><use href="#t" x="362.1" y="388.2"/><use href="#t" x="364.3" y="396.8"/><use href="#t" x="366.6" y="405.8"/><use href="#t" x="368.8" y="406.9"/><use href="#t" x="371.1" y="408.0"/><use href="#t" x="373.4" y="406.1"/><use href="#t" x="375.7" y="413.0"/><use href="#t" x="378.0" y="410.8"/><use href="#t" x="380.2" y="413.8"/><use href="#t" x="382.5" y="422.0"/><use href="#t" x="384.8" y="425.4"/><use href="#t" x="387.1" y="426.1"/><use href="#t" x="389.5" y="424.2"/><use href="#t" x="391.8" y="428.8"/><use href="#t" x="394.1" y="428.7"/><use href="#t" x="396.4" y="430.1"/><use href="#t" x="398.8" y="433.5"/><use href="#t" x="401.1" y="428.8"/><use href="#t" x="403.4" y="426.2"/><use href="#t" x="405.8" y="427.5"/><use href="#t" x="408.1" y="434.7"/><use href="#t" x="410.5" y="439.2"/><use href="#t" x="412.9" y="435.6"/><use href="#t" x="415.2" y="435.5"/><use href="#t" x="417.6" y="431.1"/><use href="#t" x="420.0" y="435.1"/><use href="#t" x="422.4" y="437.0"/><use href="#t" x="424.8" y="439.1"/><use href="#t" x="427.2" y="437.9"/><use href="#t" x="429.6" y="442.5"/><use href="#t" x="432.0" y="441.5"/><use href="#t" x="434.4" y="437.5"/><use href="#t" x="436.8" y="434.1"/><use href="#t" x="439.2" y="429.6"/><use href="#t" x="441.7" y="427.3"/><use href="#t" x="444.1" y="433.4"/><use href="#t" x="446.5" y="435.2"/><use href="#t" x="449.0" y="440.6"/><use href="#t" x="451.4" y="445.5"/><use href="#t" x="453.9" y="436.3"/><use href="#t" x="456.4" y="433.9"/><use href="#t" x="458.8" y="433.6"/><use href="#t" x="461.3" y="434.4"/><use href="#t" x="463.8" y="435.7"/><use href="#t" x="466.3" y="441.9"/><use href="#t" x="468.8" y="443.7"/><use href="#t" x="471.3" y="441.2"/><use href="#t" x="473.8" y="438.3"/><use href="#t" x="476.3" y="439.2"/><use href="#t" x="478.8" y="436.9"/><use href="#t" x="481.3" y="430.0"/><use href="#t" x="483.8" y="439.1"/><use href="#t" x="486.4" y="442.5"/><use href="#t" x="488.9" y="448.1"/><use href="#t" x="491.4" y="447.7"/><use href="#t" x="494.0" y="450.2"/><use href="#t" x="496.5" y="450.9"/><use href="#t" x="499.1" y="461.4"/><use href="#t" x="501.7" y="456.7"/><use href="#t" x="504.2" y="460.0"/><use href="#t" x="506.8" y="455.2"/><use href="#t" x="509.4" y="456.2"/><use href="#t" x="512.0" y="452.0"/><use href="#t" x="514.6" y="454.3"/><use href="#t" x="517.2" y="455.0"/><use href="#t" x="519.8" y="444.6"/><use href="#t" x="522.4" y="445.8"/><use href="#t" x="525.0" y="450.3"/><use href="#t" x="527.7" y="451.5"/><use href="#t" x="530.3" y="454.2"/><use href="#t" x="532.9" y="447.6"/><use href="#t" x="535.6" y="441.3"/><use href="#t" x="538.2" y="439.8"/><use href="#t" x="540.9" y="446.1"/><use href="#t" x="543.5" y="451.3"/><use href="#t" x="546.2" y="444.8"/><use href="#t" x="548.9" y="450.3"/><use href="#t" x="551.6" y="453.1"/><use href="#t" x="554.2" y="456.0"/><use href="#t" x="556.9" y="450.7"/><use href="#t" x="559.6" y="453.3"/><use href="#t" x="562.3" y="446.7"/><use href="#t" x="565.0" y="443.3"/><use href="#t" x="567.8" y="453.3"/><use href="#t" x="570.5" y="453.1"/><use href="#t" x="573.2" y="459.1"/><use href="#t" x="575.9" y="453.0"/><use href="#t" x="578.7" y="446.6"/><use href="#t" x="581.4" y="443.3"/><use href="#t" x="584.2" y="447.2"/><use href="#t" x="586.9" y="452.1"/><use href="#t" x="589.7" y="451.8"/><use href="#t" x="592.4" y="451.1"/><use href="#t" x="595.2" y="443.9"/><use href="#t" x="597.9" y="435.7"/><use href="#t" x="600.7" y="432.7"/><use href="#t" x="603.4" y="429.9"/><use href="#t" x="606.2" y="432.2"/><use href="#t" x="608.9" y="432.2"/><use href="#t" x="611.7" y="436.1"/><use href="#t" x="614.4" y="434.3"/><use href="#t" x="617.2" y="437.9"/><use href="#t" x="619.9" y="425.6"/><use href="#t" x="622.7" y="418.0"/><use href="#t" x="625.4" y="421.1"/><use href="#t" x="628.2" y="430.7"/><use href="#t" x="630.9" y="431.6"/><use href="#t" x="633.7" y="434.3"/><use href="#t" x="636.4" y="430.4"/><use href="#t" x="639.2" y="425.6"/><use href="#t" x="641.9" y="428.3"/><use href="#t" x="644.7" y="430.6"/><use href="#t" x="647.4" y="435.1"/><use href="#t" x="650.2" y="441.0"/><use href="#t" x="652.9" y="434.7"/><use href="#t" x="655.7" y="431.3"/><use href="#t" x="658.4" y="423.6"/><use href="#t" x="661.2" y="418.4"/><use href="#t" x="663.9" y="413.7"/><use href="#t" x="666.7" y="423.8"/><use href="#t" x="669.4" y="425.7"/><use href="#t" x="672.2" y="431.5"/><use href="#t" x="674.9" y="435.5"/><use href="#t" x="677.7" y="439.3"/><use href="#t" x="680.4" y="434.8"/><use href="#t" x="683.2" y="433.8"/><use href="#t" x="685.9" y="425.7"/><use href="#t" x="688.7" y="427.4"/><use href="#t" x="691.4" y="432.9"/><use href="#t" x="694.2" y="435.0"/><use href="#t" x="696.9" y="432.6"/><use href="#t" x="699.7" y="425.9"/><use href="#t" x="702.4" y="416.9"/><use href="#t" x="705.2" y="416.6"/><use href="#t" x="707.9" y="426.9"/><use href="#t" x="710.7" y="438.0"/><use href="#t" x="713.4" y="423.9"/><use href="#t" x="716.2" y="423.9"/><use href="#t" x="718.9" y="415.4"/><use href="#t" x="721.7" y="410.1"/><use href="#t" x="724.4" y="397.9"/><use href="#t" x="727.2" y="399.8"/><use href="#t" x="729.9" y="404.5"/><use href="#t" x="732.7" y="411.9"/><use href="#t" x="735.4" y="420.6"/><use href="#t" x="738.2" y="422.4"/><use href="#t" x="740.9" y="420.0"/><use href="#t" x="743.7" y="414.9"/><use href="#t" x="746.4" y="406.1"/><use href="#t" x="749.2" y="403.8"/><use href="#t" x="751.9" y="399.8"/><use href="#t" x="754.7" y="393.8"/><use href="#t" x="757.4" y="386.7"/><use href="#t" x="760.2" y="374.6"/><use href="#t" x="762.9" y="367.2"/><use href="#t" x="765.7" y="362.2"/><use href="#t" x="768.4" y="363.8"/><use href="#t" x="771.2" y="379.6"/><use href="#t" x="773.9" y="380.3"/><use href="#t" x="776.7" y="371.0"/><use href="#t" x="779.4" y="365.8"/><use href="#t" x="782.2" y="355.8"/><use href="#t" x="784.9" y="343.4"/><use href="#t" x="787.7" y="336.1"/><use href="#t" x="790.4" y="325.9"/><use href="#t" x="793.2" y="319.4"/><use href="#t" x="795.9" y="304.6"/><use href="#t" x="798.7" y="287.4"/></g>
<path d="M150.0,360.0 L151.5,352.8 L153.0,346.3 L154.5,340.8 L156.0,335.8 L157.5,331.2 L159.0,326.7 L160.5,321.9 L162.0,316.8 L163.5,311.2 L165.0,305.4 L166.5,299.6 L168.0,293.8 L169.5,288.2 L171.0,282.8 L172.5,277.4 L174.0,272.2 L175.5,267.0 L177.0,262.1 L178.5,257.8 L180.0,254.0 L181.5,250.7 L183.0,247.7 L184.5,244.9 L186.0,242.3 L187.5,239.8 L189.0,237.3 L190.5,234.9 L192.0,232.7 L193.5,230.6 L195.0,228.8 L196.5,227.5 L198.0,226.7 L199.5,226.5 L201.0,226.8 L202.5,227.6 L204.0,228.5 L205.5,229.5 L207.0,230.7 L208.5,232.5 L210.0,235.2 L211.5,238.1 L213.0,241.2 L214.5,244.3 L216.0,247.3 L217.5,250.2 L219.0,252.8 L220.5,255.4 L222.0,257.9 L223.5,260.6 L225.0,263.7 L226.5,267.0 L228.0,270.4 L229.5,273.7 L231.0,277.1 L232.5,280.4 L234.0,283.7 L235.5,287.0 L237.0,290.3 L238.5,293.6 L240.0,296.9 L241.5,300.1 L243.0,303.3 L244.5,306.3 L246.0,309.1 L247.5,311.8 L249.0,314.3 L250.5,316.8 L252.0,319.3 L253.5,321.8 L255.0,324.2 L256.5,326.7 L258.0,329.1 L259.5,331.5 L261.0,333.9 L262.5,336.3 L264.0,338.7 L265.5,341.0 L267.0,343.4 L268.5,345.6 L270.0,347.9 L271.5,350.1 L273.0,352.2 L274.5,354.3 L276.0,356.3 L277.5,358.0 L279.0,359.5 L280.5,360.8 L282.0,362.0 L283.5,363.0 L285.0,363.9 L286.5,364.7 L288.0,365.5 L289.5,366.3 L291.0,367.1 L292.5,367.8 L294.0,368.4 L295.5,369.1 L297.0,369.6 L298.5,370.1 L300.0,370.5 L301.5,370.9 L303.0,371.2 L304.5,371.6 L306.0,371.9 L307.5,372.1 L309.0,372.2 L310.5,372.2 L312.0,372.0 L313.5,371.8 L315.0,371.5 L316.5,371.3 L318.0,371.0 L319.5,370.7 L321.0,370.5 L322.5,370.2 L324.0,369.9 L325.5,369.6 L327.0,369.4 L328.5,369.1 L330.0,368.8 L331.5,368.6 L333.0,368.6 L334.5,368.8 L336.0,369.1 L337.5,369.6 L339.0,370.3 L340.5,371.1 L342.0,372.1 L343.5,373.3 L345.0,374.6 L346.5,376.0 L348.0,377.5 L349.5,379.1 L351.0,380.8 L352.5,382.5 L354.0,384.3 L355.5,386.0 L357.0,387.8 L358.5,389.4 L360.0,391.0 L361.5,392.5 L363.0,394.0 L364.5,395.5 L366.0,397.0 L367.5,398.4 L369.0,399.7 L370.5,401.0 L372.0,402.2 L373.5,403.4 L375.0,404.4 L376.5,405.4 L378.0,406.3 L379.5,407.1 L381.0,407.9 L382.5,408.7 L384.0,409.4 L385.5,410.1 L387.0,410.8 L388.5,411.4 L390.0,412.0 L391.5,412.6 L393.0,413.2 L394.5,413.7 L396.0,414.3 L397.5,414.8 L399.0,415.4 L400.5,415.9 L402.0,416.4 L403.5,416.9 L405.0,417.3 L406.5,417.7 L408.0,418.2 L409.5,418.6 L411.0,419.0 L412.5,419.3 L414.0,419.7 L415.5,420.1 L417.0,420.4 L418.5,420.7 L420.0,421.0 L421.5,421.3 L423.0,421.5 L424.5,421.8 L426.0,422.1 L427.5,422.3 L429.0,422.6 L430.5,422.8 L432.0,423.1 L433.5,423.3 L435.0,423.5 L436.5,423.8 L438.0,424.0 L439.5,424.2 L441.0,424.4 L442.5,424.6 L444.0,424.8 L445.5,424.9 L447.0,425.1 L448.5,425.3 L450.0,425.4 L451.5,425.5 L453.0,425.7 L454.5,425.8 L456.0,426.0 L457.5,426.1 L459.0,426.2 L460.5,426.4 L462.0,426.5 L463.5,426.6 L465.0,426.7 L466.5,426.9 L468.0,427.0 L469.5,427.1 L471.0,427.2 L472.5,427.3 L474.0,427.4 L475.5,427.5 L477.0,427.6 L478.5,427.7 L480.0,427.8 L481.5,427.9 L483.0,428.0 L484.5,428.1 L486.0,428.1 L487.5,428.2 L489.0,428.3 L490.5,428.4 L492.0,428.5 L493.5,428.6 L495.0,428.6 L496.5,428.7 L498.0,428.8 L499.5,428.9 L501.0,428.9 L502.5,429.0 L504.0,429.1 L505.5,429.1 L507.0,429.2 L508.5,429.2 L510.0,429.3 L511.5,429.4 L513.0,429.4 L514.5,429.4 L516.0,429.5 L517.5,429.5 L519.0,429.6 L520.5,429.6 L522.0,429.7 L523.5,429.7 L525.0,429.8 L526.5,429.8 L528.0,429.9 L529.5,429.9 L531.0,430.0 L532.5,430.0 L534.0,430.0 L535.5,430.1 L537.0,430.1 L538.5,430.2 L540.0,430.2 L541.5,430.2 L543.0,430.3 L544.5,430.3 L546.0,430.3 L547.5,430.4 L549.0,430.4 L550.5,430.5 L552.0,430.5 L553.5,430.5 L555.0,430.6 L556.5,430.6 L558.0,430.6 L559.5,430.7 L561.0,430.7 L562.5,430.7 L564.0,430.8 L565.5,430.8 L567.0,430.8 L568.5,430.9 L570.0,430.9 L571.5,430.9 L573.0,431.0 L574.5,431.0 L576.0,431.0 L577.5,431.1 L579.0,431.1 L580.5,431.1 L582.0,431.2 L583.5,431.2 L585.0,431.2 L586.5,431.3 L588.0,431.3 L589.5,431.3 L591.0,431.3 L592.5,431.4 L594.0,431.4 L595.5,431.4 L597.0,431.5 L598.5,431.5 L600.0,431.5 L601.5,431.5 L603.0,431.5 L604.5,431.5 L606.0,431.5 L607.5,431.5 L609.0,431.4 L610.5,431.4 L612.0,431.4 L613.5,431.3 L615.0,431.2 L616.5,431.1 L618.0,431.1 L619.5,431.0 L621.0,430.9 L622.5,430.8 L624.0,430.7 L625.5,430.6 L627.0,430.4 L628.5,430.3 L630.0,430.2 L631.5,430.1 L633.0,429.9 L634.5,429.8 L636.0,429.7 L637.5,429.5 L639.0,429.4 L640.5,429.2 L642.0,429.0 L643.5,428.9 L645.0,428.7 L646.5,428.5 L648.0,428.3 L649.5,428.1 L651.0,427.9 L652.5,427.6 L654.0,427.4 L655.5,427.2 L657.0,427.0 L658.5,426.8 L660.0,426.6 L661.5,426.3 L663.0,426.1 L664.5,425.9 L666.0,425.7 L667.5,425.5 L669.0,425.2 L670.5,425.0 L672.0,424.8 L673.5,424.6 L675.0,424.3 L676.5,424.1 L678.0,423.9 L679.5,423.7 L681.0,423.5 L682.5,423.3 L684.0,423.0 L685.5,422.8 L687.0,422.6 L688.5,422.4 L690.0,422.2 L691.5,421.9 L693.0,421.7 L694.5,421.5 L696.0,421.2 L697.5,421.0 L699.0,420.7 L700.5,420.5 L702.0,420.2 L703.5,419.9 L705.0,419.5 L706.5,419.2 L708.0,418.8 L709.5,418.4 L711.0,418.0 L712.5,417.6 L714.0,417.3 L715.5,416.9 L717.0,416.5 L718.5,416.1 L720.0,415.8 L721.5,415.4 L723.0,415.0 L724.5,414.6 L726.0,414.2 L727.5,413.7 L729.0,413.1 L730.5,412.5 L732.0,411.9 L733.5,411.2 L735.0,410.6 L736.5,409.9 L738.0,409.2 L739.5,408.5 L741.0,407.8 L742.5,407.1 L744.0,406.4 L745.5,405.6 L747.0,404.9 L748.5,404.1 L750.0,403.3 L751.5,402.5 L753.0,401.6 L754.5,400.6 L756.0,399.6 L757.5,398.5 L759.0,397.4 L760.5,396.2 L762.0,395.0 L763.5,393.8 L765.0,392.5 L766.5,391.0 L768.0,389.5 L769.5,387.8 L771.0,386.1 L772.5,384.3 L774.0,382.5 L775.5,380.6 L777.0,378.7 L778.5,376.4 L780.0,373.9 L781.5,371.2 L783.0,368.3 L784.5,365.3 L786.0,362.2 L787.5,358.7 L789.0,354.7 L790.5,350.1 L792.0,344.8 L793.5,339.0 L795.0,332.2 L796.5,324.5 L798.0,316.2 L799.5,307.3 L801.0,298.1" fill="none" stroke="#f00" stroke-width="4.2" stroke-linejoin="round"/>
</g>
<g clip-path="url(#cb)">
<path d="M150.0,913.0 L150.0,838.0 L152.0,833.0 L154.0,828.0 L156.0,823.0 L158.0,818.0 L160.0,813.0 L162.0,807.9 L164.0,802.7 L166.0,797.5 L168.0,792.4 L170.0,787.4 L172.0,782.5 L174.0,777.8 L176.0,773.2 L178.0,768.8 L180.0,764.7 L182.0,760.8 L184.0,757.1 L186.0,753.7 L188.0,750.7 L190.0,748.2 L192.0,746.0 L194.0,744.2 L196.0,742.6 L198.0,741.3 L200.0,740.3 L202.0,739.7 L204.0,739.5 L206.0,739.6 L208.0,740.1 L210.0,741.0 L212.0,742.2 L214.0,743.5 L216.0,744.9 L218.0,746.4 L220.0,748.0 L222.0,749.6 L224.0,751.3 L226.0,753.0 L228.0,754.9 L230.0,757.0 L232.0,759.5 L234.0,762.2 L236.0,765.2 L238.0,768.3 L240.0,771.6 L242.0,774.9 L244.0,778.3 L246.0,781.7 L248.0,785.1 L250.0,788.4 L252.0,791.5 L254.0,794.5 L256.0,797.4 L258.0,800.4 L260.0,803.3 L262.0,806.2 L264.0,809.1 L266.0,811.9 L268.0,814.7 L270.0,817.3 L272.0,820.0 L274.0,822.5 L276.0,824.9 L278.0,827.2 L280.0,829.5 L282.0,831.6 L284.0,833.6 L286.0,835.5 L288.0,837.4 L290.0,839.2 L292.0,840.9 L294.0,842.5 L296.0,844.1 L298.0,845.7 L300.0,847.2 L302.0,848.7 L304.0,850.1 L306.0,851.5 L308.0,852.9 L310.0,854.1 L312.0,855.3 L314.0,856.5 L316.0,857.5 L318.0,858.6 L320.0,859.6 L322.0,860.6 L324.0,861.6 L326.0,862.5 L328.0,863.4 L330.0,864.3 L332.0,865.1 L334.0,865.9 L336.0,866.6 L338.0,867.3 L340.0,868.0 L342.0,868.7 L344.0,869.4 L346.0,870.1 L348.0,870.8 L350.0,871.4 L352.0,872.1 L354.0,872.8 L356.0,873.4 L358.0,874.0 L360.0,874.7 L362.0,875.3 L364.0,875.9 L366.0,876.6 L368.0,877.2 L370.0,877.8 L372.0,878.4 L374.0,878.9 L376.0,879.4 L378.0,880.0 L380.0,880.4 L382.0,880.9 L384.0,881.3 L386.0,881.7 L388.0,882.1 L390.0,882.5 L392.0,882.8 L394.0,883.2 L396.0,883.5 L398.0,883.9 L400.0,884.2 L402.0,884.5 L404.0,884.9 L406.0,885.2 L408.0,885.5 L410.0,885.8 L412.0,886.2 L414.0,886.5 L416.0,886.8 L418.0,887.1 L420.0,887.4 L422.0,887.7 L424.0,888.0 L426.0,888.3 L428.0,888.6 L430.0,888.9 L432.0,889.2 L434.0,889.4 L436.0,889.7 L438.0,890.0 L440.0,890.2 L442.0,890.4 L444.0,890.7 L446.0,890.9 L448.0,891.2 L450.0,891.4 L452.0,891.6 L454.0,891.8 L456.0,892.1 L458.0,892.3 L460.0,892.5 L462.0,892.7 L464.0,892.9 L466.0,893.1 L468.0,893.3 L470.0,893.6 L472.0,893.8 L474.0,894.0 L476.0,894.2 L478.0,894.3 L480.0,894.5 L482.0,894.7 L484.0,894.9 L486.0,895.1 L488.0,895.3 L490.0,895.5 L492.0,895.7 L494.0,895.9 L496.0,896.1 L498.0,896.2 L500.0,896.4 L502.0,896.6 L504.0,896.8 L506.0,897.0 L508.0,897.1 L510.0,897.3 L512.0,897.5 L514.0,897.7 L516.0,897.8 L518.0,898.0 L520.0,898.2 L522.0,898.3 L524.0,898.5 L526.0,898.7 L528.0,898.8 L530.0,899.0 L532.0,899.1 L534.0,899.3 L536.0,899.4 L538.0,899.6 L540.0,899.7 L542.0,899.9 L544.0,900.0 L546.0,900.1 L548.0,900.3 L550.0,900.4 L552.0,900.5 L554.0,900.6 L556.0,900.7 L558.0,900.9 L560.0,901.0 L562.0,901.1 L564.0,901.2 L566.0,901.3 L568.0,901.4 L570.0,901.5 L572.0,901.6 L574.0,901.7 L576.0,901.8 L578.0,901.9 L580.0,902.0 L582.0,902.1 L584.0,902.2 L586.0,902.3 L588.0,902.4 L590.0,902.5 L592.0,902.6 L594.0,902.6 L596.0,902.7 L598.0,902.8 L600.0,902.9 L602.0,903.0 L604.0,903.0 L606.0,903.1 L608.0,903.2 L610.0,903.3 L612.0,903.3 L614.0,903.4 L616.0,903.5 L618.0,903.5 L620.0,903.6 L622.0,903.6 L624.0,903.7 L626.0,903.8 L628.0,903.8 L630.0,903.9 L632.0,903.9 L634.0,904.0 L636.0,904.0 L638.0,904.1 L640.0,904.1 L642.0,904.2 L644.0,904.2 L646.0,904.3 L648.0,904.3 L650.0,904.4 L652.0,904.4 L654.0,904.5 L656.0,904.5 L658.0,904.6 L660.0,904.6 L662.0,904.7 L664.0,904.7 L666.0,904.7 L668.0,904.8 L670.0,904.8 L672.0,904.9 L674.0,904.9 L676.0,905.0 L678.0,905.0 L680.0,905.1 L682.0,905.1 L684.0,905.1 L686.0,905.2 L688.0,905.2 L690.0,905.3 L692.0,905.3 L694.0,905.3 L696.0,905.4 L698.0,905.4 L700.0,905.5 L702.0,905.5 L704.0,905.5 L706.0,905.6 L708.0,905.6 L710.0,905.6 L712.0,905.7 L714.0,905.7 L716.0,905.7 L718.0,905.8 L720.0,905.8 L722.0,905.8 L724.0,905.9 L726.0,905.9 L728.0,905.9 L730.0,905.9 L732.0,906.0 L734.0,906.0 L736.0,906.0 L738.0,906.1 L740.0,906.1 L742.0,906.1 L744.0,906.1 L746.0,906.2 L748.0,906.2 L750.0,906.2 L752.0,906.3 L754.0,906.3 L756.0,906.3 L758.0,906.3 L760.0,906.4 L762.0,906.4 L764.0,906.4 L766.0,906.4 L768.0,906.5 L770.0,906.5 L772.0,906.5 L774.0,906.5 L776.0,906.6 L778.0,906.6 L780.0,906.6 L782.0,906.6 L784.0,906.6 L786.0,906.7 L788.0,906.7 L790.0,906.7 L792.0,906.7 L794.0,906.7 L796.0,906.8 L798.0,906.8 L800.0,906.8 L802.0,906.8 L802.0,913.0 Z" fill="#ffff00" fill-opacity="0.3"/>
<path d="M150.0,913.0 L150.0,906.0 L152.0,905.8 L154.0,905.6 L156.0,905.4 L158.0,905.2 L160.0,905.0 L162.0,904.8 L164.0,904.5 L166.0,904.3 L168.0,904.0 L170.0,903.8 L172.0,903.5 L174.0,903.2 L176.0,902.9 L178.0,902.6 L180.0,902.3 L182.0,902.0 L184.0,901.7 L186.0,901.3 L188.0,901.0 L190.0,900.7 L192.0,900.3 L194.0,900.0 L196.0,899.6 L198.0,899.2 L200.0,898.9 L202.0,898.5 L204.0,898.1 L206.0,897.6 L208.0,897.2 L210.0,896.8 L212.0,896.3 L214.0,895.9 L216.0,895.4 L218.0,894.9 L220.0,894.4 L222.0,893.9 L224.0,893.4 L226.0,892.8 L228.0,892.3 L230.0,891.7 L232.0,891.1 L234.0,890.5 L236.0,889.9 L238.0,889.3 L240.0,888.6 L242.0,887.9 L244.0,887.2 L246.0,886.5 L248.0,885.8 L250.0,885.1 L252.0,884.3 L254.0,883.5 L256.0,882.7 L258.0,882.0 L260.0,881.2 L262.0,880.3 L264.0,879.5 L266.0,878.7 L268.0,877.9 L270.0,877.0 L272.0,876.2 L274.0,875.3 L276.0,874.5 L278.0,873.6 L280.0,872.7 L282.0,871.9 L284.0,871.0 L286.0,870.0 L288.0,869.1 L290.0,868.2 L292.0,867.2 L294.0,866.3 L296.0,865.3 L298.0,864.3 L300.0,863.3 L302.0,862.2 L304.0,861.2 L306.0,860.1 L308.0,859.0 L310.0,857.9 L312.0,856.7 L314.0,855.6 L316.0,854.4 L318.0,853.2 L320.0,851.8 L322.0,850.5 L324.0,849.1 L326.0,847.6 L328.0,846.1 L330.0,844.6 L332.0,843.1 L334.0,841.5 L336.0,839.9 L338.0,838.4 L340.0,836.8 L342.0,835.2 L344.0,833.6 L346.0,831.9 L348.0,830.2 L350.0,828.4 L352.0,826.6 L354.0,824.6 L356.0,822.5 L358.0,820.3 L360.0,818.1 L362.0,815.9 L364.0,813.7 L366.0,811.4 L368.0,809.1 L370.0,806.9 L372.0,804.6 L374.0,802.4 L376.0,800.2 L378.0,798.0 L380.0,795.9 L382.0,793.7 L384.0,791.6 L386.0,789.4 L388.0,787.0 L390.0,784.5 L392.0,781.8 L394.0,779.1 L396.0,776.4 L398.0,773.6 L400.0,771.0 L402.0,768.3 L404.0,765.6 L406.0,762.8 L408.0,760.1 L410.0,757.3 L412.0,754.5 L414.0,751.7 L416.0,748.8 L418.0,746.0 L420.0,743.1 L422.0,740.3 L424.0,737.4 L426.0,734.5 L428.0,731.6 L430.0,728.9 L432.0,726.2 L434.0,723.6 L436.0,721.4 L438.0,719.4 L440.0,717.3 L442.0,715.3 L444.0,713.2 L446.0,711.1 L448.0,709.1 L450.0,707.0 L452.0,705.0 L454.0,703.0 L456.0,701.0 L458.0,699.0 L460.0,697.0 L462.0,695.2 L464.0,693.6 L466.0,692.1 L468.0,690.7 L470.0,689.4 L472.0,688.2 L474.0,687.1 L476.0,686.0 L478.0,684.9 L480.0,683.8 L482.0,682.7 L484.0,681.8 L486.0,680.8 L488.0,680.0 L490.0,679.2 L492.0,678.6 L494.0,677.9 L496.0,677.4 L498.0,676.9 L500.0,676.5 L502.0,676.2 L504.0,676.0 L506.0,675.8 L508.0,675.8 L510.0,675.8 L512.0,676.0 L514.0,676.2 L516.0,676.6 L518.0,677.0 L520.0,677.5 L522.0,678.1 L524.0,678.7 L526.0,679.4 L528.0,680.1 L530.0,681.0 L532.0,682.0 L534.0,683.1 L536.0,684.2 L538.0,685.3 L540.0,686.4 L542.0,687.6 L544.0,688.8 L546.0,690.0 L548.0,691.3 L550.0,692.6 L552.0,694.0 L554.0,695.4 L556.0,696.8 L558.0,698.2 L560.0,699.6 L562.0,701.0 L564.0,702.4 L566.0,703.9 L568.0,705.3 L570.0,706.8 L572.0,708.3 L574.0,709.7 L576.0,711.2 L578.0,712.7 L580.0,714.2 L582.0,715.7 L584.0,717.2 L586.0,718.7 L588.0,720.3 L590.0,721.8 L592.0,723.4 L594.0,725.0 L596.0,726.6 L598.0,728.3 L600.0,729.9 L602.0,731.6 L604.0,733.2 L606.0,734.9 L608.0,736.6 L610.0,738.2 L612.0,739.9 L614.0,741.5 L616.0,743.1 L618.0,744.7 L620.0,746.4 L622.0,748.0 L624.0,749.6 L626.0,751.2 L628.0,752.8 L630.0,754.4 L632.0,756.0 L634.0,757.6 L636.0,759.2 L638.0,760.8 L640.0,762.4 L642.0,764.0 L644.0,765.6 L646.0,767.2 L648.0,768.7 L650.0,770.3 L652.0,771.9 L654.0,773.4 L656.0,775.0 L658.0,776.5 L660.0,778.0 L662.0,779.5 L664.0,780.9 L666.0,782.3 L668.0,783.6 L670.0,785.0 L672.0,786.3 L674.0,787.7 L676.0,789.0 L678.0,790.3 L680.0,791.7 L682.0,793.0 L684.0,794.3 L686.0,795.5 L688.0,796.8 L690.0,798.0 L692.0,799.2 L694.0,800.3 L696.0,801.5 L698.0,802.5 L700.0,803.6 L702.0,804.6 L704.0,805.6 L706.0,806.6 L708.0,807.6 L710.0,808.5 L712.0,809.4 L714.0,810.3 L716.0,811.2 L718.0,812.0 L720.0,812.8 L722.0,813.6 L724.0,814.4 L726.0,815.3 L728.0,816.1 L730.0,816.9 L732.0,817.7 L734.0,818.5 L736.0,819.3 L738.0,820.2 L740.0,821.0 L742.0,821.8 L744.0,822.6 L746.0,823.4 L748.0,824.2 L750.0,825.1 L752.0,825.9 L754.0,826.7 L756.0,827.5 L758.0,828.3 L760.0,829.1 L762.0,829.8 L764.0,830.5 L766.0,831.1 L768.0,831.7 L770.0,832.2 L772.0,832.7 L774.0,833.3 L776.0,833.8 L778.0,834.4 L780.0,835.0 L782.0,835.6 L784.0,836.3 L786.0,836.9 L788.0,837.5 L790.0,838.2 L792.0,838.8 L794.0,839.4 L796.0,840.1 L798.0,840.7 L800.0,841.3 L802.0,842.0 L802.0,913.0 Z" fill="#00ff00" fill-opacity="0.3"/>
<path d="M150.0,838.0 L151.5,834.2 L153.0,830.5 L154.5,826.8 L156.0,823.0 L157.5,819.2 L159.0,815.5 L160.5,811.8 L162.0,807.9 L163.5,804.0 L165.0,800.1 L166.5,796.2 L168.0,792.4 L169.5,788.7 L171.0,785.0 L172.5,781.3 L174.0,777.8 L175.5,774.4 L177.0,771.0 L178.5,767.8 L180.0,764.7 L181.5,761.7 L183.0,758.9 L184.5,756.2 L186.0,753.7 L187.5,751.4 L189.0,749.4 L190.5,747.6 L192.0,746.0 L193.5,744.6 L195.0,743.4 L196.5,742.2 L198.0,741.3 L199.5,740.5 L201.0,739.9 L202.5,739.6 L204.0,739.5 L205.5,739.6 L207.0,739.8 L208.5,740.3 L210.0,741.0 L211.5,741.9 L213.0,742.8 L214.5,743.8 L216.0,744.9 L217.5,746.0 L219.0,747.2 L220.5,748.4 L222.0,749.6 L223.5,750.8 L225.0,752.1 L226.5,753.5 L228.0,754.9 L229.5,756.5 L231.0,758.2 L232.5,760.1 L234.0,762.2 L235.5,764.4 L237.0,766.7 L238.5,769.1 L240.0,771.6 L241.5,774.1 L243.0,776.6 L244.5,779.2 L246.0,781.7 L247.5,784.3 L249.0,786.7 L250.5,789.2 L252.0,791.5 L253.5,793.7 L255.0,796.0 L256.5,798.2 L258.0,800.4 L259.5,802.6 L261.0,804.8 L262.5,806.9 L264.0,809.1 L265.5,811.2 L267.0,813.3 L268.5,815.3 L270.0,817.3 L271.5,819.3 L273.0,821.2 L274.5,823.1 L276.0,824.9 L277.5,826.7 L279.0,828.4 L280.5,830.0 L282.0,831.6 L283.5,833.1 L285.0,834.6 L286.5,836.0 L288.0,837.4 L289.5,838.7 L291.0,840.0 L292.5,841.3 L294.0,842.5 L295.5,843.7 L297.0,844.9 L298.5,846.0 L300.0,847.2 L301.5,848.3 L303.0,849.4 L304.5,850.5 L306.0,851.5 L307.5,852.5 L309.0,853.5 L310.5,854.4 L312.0,855.3 L313.5,856.2 L315.0,857.0 L316.5,857.8 L318.0,858.6 L319.5,859.3 L321.0,860.1 L322.5,860.8 L324.0,861.6 L325.5,862.3 L327.0,863.0 L328.5,863.6 L330.0,864.3 L331.5,864.9 L333.0,865.5 L334.5,866.1 L336.0,866.6 L337.5,867.1 L339.0,867.7 L340.5,868.2 L342.0,868.7 L343.5,869.2 L345.0,869.8 L346.5,870.3 L348.0,870.8 L349.5,871.3 L351.0,871.8 L352.5,872.3 L354.0,872.8 L355.5,873.2 L357.0,873.7 L358.5,874.2 L360.0,874.7 L361.5,875.2 L363.0,875.6 L364.5,876.1 L366.0,876.6 L367.5,877.0 L369.0,877.5 L370.5,877.9 L372.0,878.4 L373.5,878.8 L375.0,879.2 L376.5,879.6 L378.0,880.0 L379.5,880.3 L381.0,880.7 L382.5,881.0 L384.0,881.3 L385.5,881.6 L387.0,881.9 L388.5,882.2 L390.0,882.5 L391.5,882.8 L393.0,883.0 L394.5,883.3 L396.0,883.5 L397.5,883.8 L399.0,884.0 L400.5,884.3 L402.0,884.5 L403.5,884.8 L405.0,885.0 L406.5,885.3 L408.0,885.5 L409.5,885.8 L411.0,886.0 L412.5,886.2 L414.0,886.5 L415.5,886.7 L417.0,887.0 L418.5,887.2 L420.0,887.4 L421.5,887.7 L423.0,887.9 L424.5,888.1 L426.0,888.3 L427.5,888.5 L429.0,888.8 L430.5,889.0 L432.0,889.2 L433.5,889.4 L435.0,889.6 L436.5,889.8 L438.0,890.0 L439.5,890.1 L441.0,890.3 L442.5,890.5 L444.0,890.7 L445.5,890.9 L447.0,891.0 L448.5,891.2 L450.0,891.4 L451.5,891.6 L453.0,891.7 L454.5,891.9 L456.0,892.1 L457.5,892.2 L459.0,892.4 L460.5,892.6 L462.0,892.7 L463.5,892.9 L465.0,893.0 L466.5,893.2 L468.0,893.3 L469.5,893.5 L471.0,893.7 L472.5,893.8 L474.0,894.0 L475.5,894.1 L477.0,894.2 L478.5,894.4 L480.0,894.5 L481.5,894.7 L483.0,894.8 L484.5,895.0 L486.0,895.1 L487.5,895.3 L489.0,895.4 L490.5,895.5 L492.0,895.7 L493.5,895.8 L495.0,896.0 L496.5,896.1 L498.0,896.2 L499.5,896.4 L501.0,896.5 L502.5,896.6 L504.0,896.8 L505.5,896.9 L507.0,897.1 L508.5,897.2 L510.0,897.3 L511.5,897.4 L513.0,897.6 L514.5,897.7 L516.0,897.8 L517.5,898.0 L519.0,898.1 L520.5,898.2 L522.0,898.3 L523.5,898.5 L525.0,898.6 L526.5,898.7 L528.0,898.8 L529.5,898.9 L531.0,899.1 L532.5,899.2 L534.0,899.3 L535.5,899.4 L537.0,899.5 L538.5,899.6 L540.0,899.7 L541.5,899.8 L543.0,899.9 L544.5,900.0 L546.0,900.1 L547.5,900.2 L549.0,900.3 L550.5,900.4 L552.0,900.5 L553.5,900.6 L555.0,900.7 L556.5,900.8 L558.0,900.9 L559.5,900.9 L561.0,901.0 L562.5,901.1 L564.0,901.2 L565.5,901.3 L567.0,901.4 L568.5,901.4 L570.0,901.5 L571.5,901.6 L573.0,901.7 L574.5,901.7 L576.0,901.8 L577.5,901.9 L579.0,902.0 L580.5,902.0 L582.0,902.1 L583.5,902.2 L585.0,902.2 L586.5,902.3 L588.0,902.4 L589.5,902.4 L591.0,902.5 L592.5,902.6 L594.0,902.6 L595.5,902.7 L597.0,902.8 L598.5,902.8 L600.0,902.9 L601.5,902.9 L603.0,903.0 L604.5,903.1 L606.0,903.1 L607.5,903.2 L609.0,903.2 L610.5,903.3 L612.0,903.3 L613.5,903.4 L615.0,903.4 L616.5,903.5 L618.0,903.5 L619.5,903.6 L621.0,903.6 L622.5,903.7 L624.0,903.7 L625.5,903.7 L627.0,903.8 L628.5,903.8 L630.0,903.9 L631.5,903.9 L633.0,903.9 L634.5,904.0 L636.0,904.0 L637.5,904.1 L639.0,904.1 L640.5,904.1 L642.0,904.2 L643.5,904.2 L645.0,904.2 L646.5,904.3 L648.0,904.3 L649.5,904.4 L651.0,904.4 L652.5,904.4 L654.0,904.5 L655.5,904.5 L657.0,904.5 L658.5,904.6 L660.0,904.6 L661.5,904.6 L663.0,904.7 L664.5,904.7 L666.0,904.7 L667.5,904.8 L669.0,904.8 L670.5,904.9 L672.0,904.9 L673.5,904.9 L675.0,905.0 L676.5,905.0 L678.0,905.0 L679.5,905.1 L681.0,905.1 L682.5,905.1 L684.0,905.1 L685.5,905.2 L687.0,905.2 L688.5,905.2 L690.0,905.3 L691.5,905.3 L693.0,905.3 L694.5,905.4 L696.0,905.4 L697.5,905.4 L699.0,905.4 L700.5,905.5 L702.0,905.5 L703.5,905.5 L705.0,905.6 L706.5,905.6 L708.0,905.6 L709.5,905.6 L711.0,905.7 L712.5,905.7 L714.0,905.7 L715.5,905.7 L717.0,905.8 L718.5,905.8 L720.0,905.8 L721.5,905.8 L723.0,905.8 L724.5,905.9 L726.0,905.9 L727.5,905.9 L729.0,905.9 L730.5,906.0 L732.0,906.0 L733.5,906.0 L735.0,906.0 L736.5,906.0 L738.0,906.1 L739.5,906.1 L741.0,906.1 L742.5,906.1 L744.0,906.1 L745.5,906.2 L747.0,906.2 L748.5,906.2 L750.0,906.2 L751.5,906.2 L753.0,906.3 L754.5,906.3 L756.0,906.3 L757.5,906.3 L759.0,906.3 L760.5,906.4 L762.0,906.4 L763.5,906.4 L765.0,906.4 L766.5,906.4 L768.0,906.5 L769.5,906.5 L771.0,906.5 L772.5,906.5 L774.0,906.5 L775.5,906.5 L777.0,906.6 L778.5,906.6 L780.0,906.6 L781.5,906.6 L783.0,906.6 L784.5,906.6 L786.0,906.7 L787.5,906.7 L789.0,906.7 L790.5,906.7 L792.0,906.7 L793.5,906.7 L795.0,906.7 L796.5,906.8 L798.0,906.8 L799.5,906.8 L801.0,906.8" fill="none" stroke="#000" stroke-width="2.4" stroke-dasharray="11.5 11"/>
<path d="M150.0,906.0 L151.5,905.9 L153.0,905.7 L154.5,905.6 L156.0,905.4 L157.5,905.3 L159.0,905.1 L160.5,904.9 L162.0,904.8 L163.5,904.6 L165.0,904.4 L166.5,904.2 L168.0,904.0 L169.5,903.8 L171.0,903.6 L172.5,903.4 L174.0,903.2 L175.5,903.0 L177.0,902.8 L178.5,902.5 L180.0,902.3 L181.5,902.1 L183.0,901.8 L184.5,901.6 L186.0,901.3 L187.5,901.1 L189.0,900.8 L190.5,900.6 L192.0,900.3 L193.5,900.1 L195.0,899.8 L196.5,899.5 L198.0,899.2 L199.5,899.0 L201.0,898.7 L202.5,898.4 L204.0,898.1 L205.5,897.7 L207.0,897.4 L208.5,897.1 L210.0,896.8 L211.5,896.4 L213.0,896.1 L214.5,895.7 L216.0,895.4 L217.5,895.0 L219.0,894.6 L220.5,894.3 L222.0,893.9 L223.5,893.5 L225.0,893.1 L226.5,892.7 L228.0,892.3 L229.5,891.8 L231.0,891.4 L232.5,891.0 L234.0,890.5 L235.5,890.1 L237.0,889.6 L238.5,889.1 L240.0,888.6 L241.5,888.1 L243.0,887.6 L244.5,887.1 L246.0,886.5 L247.5,886.0 L249.0,885.4 L250.5,884.9 L252.0,884.3 L253.5,883.7 L255.0,883.1 L256.5,882.5 L258.0,882.0 L259.5,881.4 L261.0,880.7 L262.5,880.1 L264.0,879.5 L265.5,878.9 L267.0,878.3 L268.5,877.6 L270.0,877.0 L271.5,876.4 L273.0,875.8 L274.5,875.1 L276.0,874.5 L277.5,873.8 L279.0,873.2 L280.5,872.5 L282.0,871.9 L283.5,871.2 L285.0,870.5 L286.5,869.8 L288.0,869.1 L289.5,868.4 L291.0,867.7 L292.5,867.0 L294.0,866.3 L295.5,865.5 L297.0,864.8 L298.5,864.0 L300.0,863.3 L301.5,862.5 L303.0,861.7 L304.5,860.9 L306.0,860.1 L307.5,859.3 L309.0,858.4 L310.5,857.6 L312.0,856.7 L313.5,855.9 L315.0,855.0 L316.5,854.1 L318.0,853.2 L319.5,852.2 L321.0,851.2 L322.5,850.1 L324.0,849.1 L325.5,848.0 L327.0,846.9 L328.5,845.7 L330.0,844.6 L331.5,843.5 L333.0,842.3 L334.5,841.1 L336.0,839.9 L337.5,838.8 L339.0,837.6 L340.5,836.4 L342.0,835.2 L343.5,834.0 L345.0,832.8 L346.5,831.5 L348.0,830.2 L349.5,828.9 L351.0,827.5 L352.5,826.1 L354.0,824.6 L355.5,823.0 L357.0,821.4 L358.5,819.8 L360.0,818.1 L361.5,816.5 L363.0,814.8 L364.5,813.1 L366.0,811.4 L367.5,809.7 L369.0,808.0 L370.5,806.3 L372.0,804.6 L373.5,802.9 L375.0,801.3 L376.5,799.6 L378.0,798.0 L379.5,796.4 L381.0,794.8 L382.5,793.2 L384.0,791.6 L385.5,789.9 L387.0,788.2 L388.5,786.4 L390.0,784.5 L391.5,782.5 L393.0,780.5 L394.5,778.4 L396.0,776.4 L397.5,774.3 L399.0,772.3 L400.5,770.3 L402.0,768.3 L403.5,766.2 L405.0,764.2 L406.5,762.2 L408.0,760.1 L409.5,758.0 L411.0,755.9 L412.5,753.8 L414.0,751.7 L415.5,749.6 L417.0,747.4 L418.5,745.3 L420.0,743.1 L421.5,741.0 L423.0,738.8 L424.5,736.6 L426.0,734.5 L427.5,732.3 L429.0,730.2 L430.5,728.2 L432.0,726.2 L433.5,724.3 L435.0,722.4 L436.5,720.9 L438.0,719.4 L439.5,717.9 L441.0,716.3 L442.5,714.8 L444.0,713.2 L445.5,711.7 L447.0,710.1 L448.5,708.6 L450.0,707.0 L451.5,705.5 L453.0,704.0 L454.5,702.5 L456.0,701.0 L457.5,699.5 L459.0,698.0 L460.5,696.6 L462.0,695.2 L463.5,694.0 L465.0,692.8 L466.5,691.8 L468.0,690.7 L469.5,689.8 L471.0,688.8 L472.5,687.9 L474.0,687.1 L475.5,686.2 L477.0,685.4 L478.5,684.6 L480.0,683.8 L481.5,683.0 L483.0,682.2 L484.5,681.5 L486.0,680.8 L487.5,680.2 L489.0,679.6 L490.5,679.1 L492.0,678.6 L493.5,678.1 L495.0,677.7 L496.5,677.3 L498.0,676.9 L499.5,676.6 L501.0,676.4 L502.5,676.2 L504.0,676.0 L505.5,675.9 L507.0,675.8 L508.5,675.8 L510.0,675.8 L511.5,675.9 L513.0,676.1 L514.5,676.3 L516.0,676.6 L517.5,676.9 L519.0,677.2 L520.5,677.6 L522.0,678.1 L523.5,678.5 L525.0,679.0 L526.5,679.6 L528.0,680.1 L529.5,680.8 L531.0,681.5 L532.5,682.3 L534.0,683.1 L535.5,683.9 L537.0,684.7 L538.5,685.6 L540.0,686.4 L541.5,687.3 L543.0,688.2 L544.5,689.1 L546.0,690.0 L547.5,691.0 L549.0,692.0 L550.5,693.0 L552.0,694.0 L553.5,695.0 L555.0,696.1 L556.5,697.1 L558.0,698.2 L559.5,699.2 L561.0,700.3 L562.5,701.4 L564.0,702.4 L565.5,703.5 L567.0,704.6 L568.5,705.7 L570.0,706.8 L571.5,707.9 L573.0,709.0 L574.5,710.1 L576.0,711.2 L577.5,712.3 L579.0,713.5 L580.5,714.6 L582.0,715.7 L583.5,716.8 L585.0,718.0 L586.5,719.1 L588.0,720.3 L589.5,721.4 L591.0,722.6 L592.5,723.8 L594.0,725.0 L595.5,726.2 L597.0,727.4 L598.5,728.7 L600.0,729.9 L601.5,731.2 L603.0,732.4 L604.5,733.7 L606.0,734.9 L607.5,736.2 L609.0,737.4 L610.5,738.6 L612.0,739.9 L613.5,741.1 L615.0,742.3 L616.5,743.5 L618.0,744.7 L619.5,746.0 L621.0,747.2 L622.5,748.4 L624.0,749.6 L625.5,750.8 L627.0,752.0 L628.5,753.2 L630.0,754.4 L631.5,755.6 L633.0,756.8 L634.5,758.0 L636.0,759.2 L637.5,760.4 L639.0,761.6 L640.5,762.8 L642.0,764.0 L643.5,765.2 L645.0,766.4 L646.5,767.6 L648.0,768.7 L649.5,769.9 L651.0,771.1 L652.5,772.3 L654.0,773.4 L655.5,774.6 L657.0,775.8 L658.5,776.9 L660.0,778.0 L661.5,779.1 L663.0,780.2 L664.5,781.2 L666.0,782.3 L667.5,783.3 L669.0,784.3 L670.5,785.3 L672.0,786.3 L673.5,787.3 L675.0,788.3 L676.5,789.3 L678.0,790.3 L679.5,791.3 L681.0,792.3 L682.5,793.3 L684.0,794.3 L685.5,795.2 L687.0,796.1 L688.5,797.1 L690.0,798.0 L691.5,798.9 L693.0,799.8 L694.5,800.6 L696.0,801.5 L697.5,802.3 L699.0,803.1 L700.5,803.9 L702.0,804.6 L703.5,805.4 L705.0,806.1 L706.5,806.9 L708.0,807.6 L709.5,808.3 L711.0,809.0 L712.5,809.7 L714.0,810.3 L715.5,811.0 L717.0,811.6 L718.5,812.2 L720.0,812.8 L721.5,813.4 L723.0,814.0 L724.5,814.7 L726.0,815.3 L727.5,815.9 L729.0,816.5 L730.5,817.1 L732.0,817.7 L733.5,818.3 L735.0,818.9 L736.5,819.5 L738.0,820.2 L739.5,820.8 L741.0,821.4 L742.5,822.0 L744.0,822.6 L745.5,823.2 L747.0,823.8 L748.5,824.4 L750.0,825.1 L751.5,825.7 L753.0,826.3 L754.5,826.9 L756.0,827.5 L757.5,828.1 L759.0,828.7 L760.5,829.3 L762.0,829.8 L763.5,830.3 L765.0,830.8 L766.5,831.2 L768.0,831.7 L769.5,832.1 L771.0,832.5 L772.5,832.9 L774.0,833.3 L775.5,833.7 L777.0,834.1 L778.5,834.5 L780.0,835.0 L781.5,835.5 L783.0,835.9 L784.5,836.4 L786.0,836.9 L787.5,837.4 L789.0,837.8 L790.5,838.3 L792.0,838.8 L793.5,839.3 L795.0,839.7 L796.5,840.2 L798.0,840.7 L799.5,841.2 L801.0,841.7" fill="none" stroke="#00ff00" stroke-width="2.3" stroke-dasharray="11.5 11"/>
<path d="M380,908.6 L560,908.2" fill="none" stroke="#ff2020" stroke-width="1.8" stroke-dasharray="11.5 11"/>
<path d="M150.0,913.0 L150.0,908.5 L152.0,908.5 L154.0,908.5 L156.0,908.5 L158.0,908.5 L160.0,908.5 L162.0,908.5 L164.0,908.5 L166.0,908.5 L168.0,908.5 L170.0,908.5 L172.0,908.5 L174.0,908.5 L176.0,908.5 L178.0,908.5 L180.0,908.5 L182.0,908.5 L184.0,908.4 L186.0,908.4 L188.0,908.4 L190.0,908.4 L192.0,908.4 L194.0,908.4 L196.0,908.4 L198.0,908.4 L200.0,908.4 L202.0,908.4 L204.0,908.4 L206.0,908.4 L208.0,908.4 L210.0,908.4 L212.0,908.4 L214.0,908.4 L216.0,908.4 L218.0,908.4 L220.0,908.4 L222.0,908.3 L224.0,908.3 L226.0,908.3 L228.0,908.3 L230.0,908.3 L232.0,908.3 L234.0,908.3 L236.0,908.3 L238.0,908.3 L240.0,908.3 L242.0,908.3 L244.0,908.3 L246.0,908.3 L248.0,908.3 L250.0,908.2 L252.0,908.2 L254.0,908.2 L256.0,908.2 L258.0,908.2 L260.0,908.2 L262.0,908.2 L264.0,908.2 L266.0,908.2 L268.0,908.2 L270.0,908.2 L272.0,908.2 L274.0,908.1 L276.0,908.1 L278.0,908.1 L280.0,908.1 L282.0,908.1 L284.0,908.1 L286.0,908.1 L288.0,908.1 L290.0,908.1 L292.0,908.1 L294.0,908.1 L296.0,908.0 L298.0,908.0 L300.0,908.0 L302.0,908.0 L304.0,908.0 L306.0,908.0 L308.0,908.0 L310.0,908.0 L312.0,908.0 L314.0,908.0 L316.0,907.9 L318.0,907.9 L320.0,907.9 L322.0,907.9 L324.0,907.9 L326.0,907.9 L328.0,907.9 L330.0,907.9 L332.0,907.9 L334.0,907.9 L336.0,907.8 L338.0,907.8 L340.0,907.8 L342.0,907.8 L344.0,907.8 L346.0,907.8 L348.0,907.8 L350.0,907.8 L352.0,907.8 L354.0,907.8 L356.0,907.7 L358.0,907.7 L360.0,907.7 L362.0,907.7 L364.0,907.7 L366.0,907.7 L368.0,907.7 L370.0,907.7 L372.0,907.7 L374.0,907.6 L376.0,907.6 L378.0,907.6 L380.0,907.6 L382.0,907.6 L384.0,907.6 L386.0,907.6 L388.0,907.6 L390.0,907.6 L392.0,907.5 L394.0,907.5 L396.0,907.5 L398.0,907.5 L400.0,907.5 L402.0,907.5 L404.0,907.5 L406.0,907.5 L408.0,907.5 L410.0,907.4 L412.0,907.4 L414.0,907.4 L416.0,907.4 L418.0,907.4 L420.0,907.4 L422.0,907.3 L424.0,907.3 L426.0,907.3 L428.0,907.3 L430.0,907.3 L432.0,907.3 L434.0,907.2 L436.0,907.2 L438.0,907.2 L440.0,907.2 L442.0,907.2 L444.0,907.1 L446.0,907.1 L448.0,907.1 L450.0,907.1 L452.0,907.0 L454.0,907.0 L456.0,907.0 L458.0,907.0 L460.0,907.0 L462.0,906.9 L464.0,906.9 L466.0,906.9 L468.0,906.9 L470.0,906.8 L472.0,906.8 L474.0,906.8 L476.0,906.8 L478.0,906.8 L480.0,906.7 L482.0,906.7 L484.0,906.7 L486.0,906.7 L488.0,906.6 L490.0,906.6 L492.0,906.6 L494.0,906.6 L496.0,906.5 L498.0,906.5 L500.0,906.5 L502.0,906.5 L504.0,906.5 L506.0,906.4 L508.0,906.4 L510.0,906.4 L512.0,906.4 L514.0,906.4 L516.0,906.4 L518.0,906.4 L520.0,906.4 L522.0,906.4 L524.0,906.4 L526.0,906.3 L528.0,906.3 L530.0,906.3 L532.0,906.3 L534.0,906.3 L536.0,906.2 L538.0,906.2 L540.0,906.2 L542.0,906.1 L544.0,906.1 L546.0,906.0 L548.0,906.0 L550.0,905.9 L552.0,905.8 L554.0,905.7 L556.0,905.7 L558.0,905.6 L560.0,905.5 L562.0,905.3 L564.0,905.2 L566.0,905.1 L568.0,904.9 L570.0,904.8 L572.0,904.6 L574.0,904.4 L576.0,904.2 L578.0,904.0 L580.0,903.7 L582.0,903.5 L584.0,903.2 L586.0,903.0 L588.0,902.7 L590.0,902.5 L592.0,902.2 L594.0,902.0 L596.0,901.8 L598.0,901.6 L600.0,901.3 L602.0,901.1 L604.0,900.9 L606.0,900.7 L608.0,900.4 L610.0,900.2 L612.0,900.0 L614.0,899.8 L616.0,899.5 L618.0,899.3 L620.0,899.1 L622.0,898.8 L624.0,898.5 L626.0,898.3 L628.0,898.0 L630.0,897.7 L632.0,897.4 L634.0,897.1 L636.0,896.9 L638.0,896.5 L640.0,896.2 L642.0,895.8 L644.0,895.5 L646.0,895.1 L648.0,894.6 L650.0,894.2 L652.0,893.7 L654.0,893.2 L656.0,892.7 L658.0,892.2 L660.0,891.6 L662.0,891.0 L664.0,890.4 L666.0,889.8 L668.0,889.2 L670.0,888.6 L672.0,888.0 L674.0,887.3 L676.0,886.7 L678.0,886.1 L680.0,885.4 L682.0,884.8 L684.0,884.1 L686.0,883.4 L688.0,882.7 L690.0,882.0 L692.0,881.3 L694.0,880.6 L696.0,879.9 L698.0,879.1 L700.0,878.3 L702.0,877.4 L704.0,876.5 L706.0,875.5 L708.0,874.4 L710.0,873.2 L712.0,872.0 L714.0,870.7 L716.0,869.4 L718.0,868.0 L720.0,866.5 L722.0,865.0 L724.0,863.3 L726.0,861.5 L728.0,859.7 L730.0,857.8 L732.0,855.8 L734.0,853.8 L736.0,851.7 L738.0,849.6 L740.0,847.5 L742.0,845.2 L744.0,842.7 L746.0,840.1 L748.0,837.4 L750.0,834.4 L752.0,831.1 L754.0,827.8 L756.0,824.2 L758.0,820.5 L760.0,816.5 L762.0,812.3 L764.0,807.7 L766.0,803.0 L768.0,798.0 L770.0,792.6 L772.0,786.9 L774.0,780.7 L776.0,773.7 L778.0,766.2 L780.0,758.3 L782.0,750.0 L784.0,741.1 L786.0,730.8 L788.0,718.8 L790.0,706.3 L792.0,693.7 L794.0,681.0 L796.0,666.9 L798.0,646.7 L800.0,622.0 L802.0,598.0 L802.0,913.0 Z" fill="#ff8000" fill-opacity="0.4"/>
<path d="M560.0,905.5 L561.5,905.4 L563.0,905.3 L564.5,905.2 L566.0,905.1 L567.5,905.0 L569.0,904.8 L570.5,904.7 L572.0,904.6 L573.5,904.5 L575.0,904.3 L576.5,904.1 L578.0,904.0 L579.5,903.8 L581.0,903.6 L582.5,903.4 L584.0,903.2 L585.5,903.0 L587.0,902.9 L588.5,902.7 L590.0,902.5 L591.5,902.3 L593.0,902.1 L594.5,901.9 L596.0,901.8 L597.5,901.6 L599.0,901.4 L600.5,901.3 L602.0,901.1 L603.5,900.9 L605.0,900.8 L606.5,900.6 L608.0,900.4 L609.5,900.3 L611.0,900.1 L612.5,899.9 L614.0,899.8 L615.5,899.6 L617.0,899.4 L618.5,899.2 L620.0,899.1 L621.5,898.9 L623.0,898.7 L624.5,898.5 L626.0,898.3 L627.5,898.1 L629.0,897.9 L630.5,897.6 L632.0,897.4 L633.5,897.2 L635.0,897.0 L636.5,896.8 L638.0,896.5 L639.5,896.3 L641.0,896.0 L642.5,895.8 L644.0,895.5 L645.5,895.2 L647.0,894.9 L648.5,894.5 L650.0,894.2 L651.5,893.8 L653.0,893.5 L654.5,893.1 L656.0,892.7 L657.5,892.3 L659.0,891.9 L660.5,891.5 L662.0,891.0 L663.5,890.6 L665.0,890.1 L666.5,889.7 L668.0,889.2 L669.5,888.7 L671.0,888.3 L672.5,887.8 L674.0,887.3 L675.5,886.8 L677.0,886.4 L678.5,885.9 L680.0,885.4 L681.5,884.9 L683.0,884.4 L684.5,883.9 L686.0,883.4 L687.5,882.9 L689.0,882.4 L690.5,881.8 L692.0,881.3 L693.5,880.8 L695.0,880.2 L696.5,879.7 L698.0,879.1 L699.5,878.5 L701.0,877.9 L702.5,877.2 L704.0,876.5 L705.5,875.7 L707.0,874.9 L708.5,874.1 L710.0,873.2 L711.5,872.3 L713.0,871.4 L714.5,870.4 L716.0,869.4 L717.5,868.4 L719.0,867.3 L720.5,866.1 L722.0,865.0 L723.5,863.7 L725.0,862.4 L726.5,861.1 L728.0,859.7 L729.5,858.3 L731.0,856.8 L732.5,855.3 L734.0,853.8 L735.5,852.2 L737.0,850.7 L738.5,849.1 L740.0,847.5 L741.5,845.8 L743.0,844.0 L744.5,842.1 L746.0,840.1 L747.5,838.1 L749.0,835.9 L750.5,833.6 L752.0,831.1 L753.5,828.6 L755.0,826.0 L756.5,823.3 L758.0,820.5 L759.5,817.6 L761.0,814.4 L762.5,811.2 L764.0,807.7 L765.5,804.2 L767.0,800.5 L768.5,796.7 L770.0,792.6 L771.5,788.4 L773.0,783.8 L774.5,779.0 L776.0,773.7 L777.5,768.1 L779.0,762.3 L780.5,756.3 L782.0,750.0 L783.5,743.4 L785.0,736.2 L786.5,728.0 L788.0,718.8 L789.5,709.4 L791.0,700.0 L792.5,690.5 L794.0,681.0 L795.5,670.9 L797.0,657.8 L798.5,640.7 L800.0,622.0 L801.5,603.9" fill="none" stroke="#ff8000" stroke-width="2.3" stroke-dasharray="11.5 11"/>
<path d="M150.0,913.0 L150.0,908.3 L152.0,908.3 L154.0,908.3 L156.0,908.3 L158.0,908.3 L160.0,908.2 L162.0,908.2 L164.0,908.2 L166.0,908.1 L168.0,908.1 L170.0,908.0 L172.0,908.0 L174.0,907.9 L176.0,907.9 L178.0,907.8 L180.0,907.7 L182.0,907.7 L184.0,907.6 L186.0,907.5 L188.0,907.4 L190.0,907.3 L192.0,907.3 L194.0,907.2 L196.0,907.1 L198.0,907.0 L200.0,906.9 L202.0,906.8 L204.0,906.7 L206.0,906.6 L208.0,906.4 L210.0,906.3 L212.0,906.2 L214.0,906.1 L216.0,906.0 L218.0,905.9 L220.0,905.8 L222.0,905.6 L224.0,905.5 L226.0,905.4 L228.0,905.3 L230.0,905.1 L232.0,905.0 L234.0,904.9 L236.0,904.8 L238.0,904.6 L240.0,904.5 L242.0,904.3 L244.0,904.1 L246.0,904.0 L248.0,903.8 L250.0,903.6 L252.0,903.4 L254.0,903.2 L256.0,902.9 L258.0,902.7 L260.0,902.5 L262.0,902.2 L264.0,901.9 L266.0,901.7 L268.0,901.4 L270.0,901.1 L272.0,900.8 L274.0,900.4 L276.0,900.1 L278.0,899.7 L280.0,899.2 L282.0,898.7 L284.0,898.2 L286.0,897.6 L288.0,897.0 L290.0,896.4 L292.0,895.7 L294.0,895.0 L296.0,894.3 L298.0,893.5 L300.0,892.7 L302.0,891.8 L304.0,890.8 L306.0,889.7 L308.0,888.6 L310.0,887.3 L312.0,886.0 L314.0,884.5 L316.0,882.8 L318.0,880.6 L320.0,877.9 L322.0,874.9 L324.0,871.7 L326.0,868.5 L328.0,865.5 L330.0,862.2 L332.0,858.9 L334.0,855.5 L336.0,852.1 L338.0,848.9 L340.0,845.9 L342.0,842.8 L344.0,839.7 L346.0,836.8 L348.0,834.1 L350.0,831.8 L352.0,830.0 L354.0,828.6 L356.0,827.2 L358.0,826.0 L360.0,825.0 L362.0,824.3 L364.0,824.0 L366.0,824.2 L368.0,824.9 L370.0,826.0 L372.0,827.3 L374.0,828.9 L376.0,830.5 L378.0,832.3 L380.0,834.7 L382.0,837.6 L384.0,840.7 L386.0,843.8 L388.0,846.7 L390.0,849.2 L392.0,851.7 L394.0,854.0 L396.0,856.3 L398.0,858.5 L400.0,860.6 L402.0,862.7 L404.0,864.8 L406.0,866.8 L408.0,868.8 L410.0,870.7 L412.0,872.5 L414.0,874.3 L416.0,876.0 L418.0,877.5 L420.0,879.0 L422.0,880.4 L424.0,881.7 L426.0,883.0 L428.0,884.3 L430.0,885.5 L432.0,886.7 L434.0,887.8 L436.0,888.8 L438.0,889.8 L440.0,890.8 L442.0,891.7 L444.0,892.6 L446.0,893.4 L448.0,894.3 L450.0,895.1 L452.0,895.8 L454.0,896.5 L456.0,897.2 L458.0,897.7 L460.0,898.3 L462.0,898.8 L464.0,899.2 L466.0,899.7 L468.0,900.1 L470.0,900.5 L472.0,900.9 L474.0,901.2 L476.0,901.5 L478.0,901.8 L480.0,902.0 L482.0,902.3 L484.0,902.5 L486.0,902.7 L488.0,902.9 L490.0,903.1 L492.0,903.2 L494.0,903.4 L496.0,903.6 L498.0,903.7 L500.0,903.9 L502.0,904.0 L504.0,904.2 L506.0,904.3 L508.0,904.4 L510.0,904.5 L512.0,904.6 L514.0,904.7 L516.0,904.8 L518.0,904.9 L520.0,905.0 L522.0,905.1 L524.0,905.2 L526.0,905.2 L528.0,905.3 L530.0,905.4 L532.0,905.4 L534.0,905.5 L536.0,905.6 L538.0,905.7 L540.0,905.7 L542.0,905.8 L544.0,905.8 L546.0,905.9 L548.0,906.0 L550.0,906.0 L552.0,906.1 L554.0,906.1 L556.0,906.2 L558.0,906.2 L560.0,906.3 L562.0,906.3 L564.0,906.4 L566.0,906.4 L568.0,906.5 L570.0,906.5 L572.0,906.6 L574.0,906.6 L576.0,906.6 L578.0,906.7 L580.0,906.7 L582.0,906.7 L584.0,906.8 L586.0,906.8 L588.0,906.8 L590.0,906.9 L592.0,906.9 L594.0,906.9 L596.0,907.0 L598.0,907.0 L600.0,907.0 L602.0,907.0 L604.0,907.0 L606.0,907.1 L608.0,907.1 L610.0,907.1 L612.0,907.1 L614.0,907.2 L616.0,907.2 L618.0,907.2 L620.0,907.2 L622.0,907.2 L624.0,907.3 L626.0,907.3 L628.0,907.3 L630.0,907.3 L632.0,907.3 L634.0,907.4 L636.0,907.4 L638.0,907.4 L640.0,907.4 L642.0,907.4 L644.0,907.5 L646.0,907.5 L648.0,907.5 L650.0,907.5 L652.0,907.5 L654.0,907.6 L656.0,907.6 L658.0,907.6 L660.0,907.6 L662.0,907.6 L664.0,907.6 L666.0,907.7 L668.0,907.7 L670.0,907.7 L672.0,907.7 L674.0,907.7 L676.0,907.7 L678.0,907.8 L680.0,907.8 L682.0,907.8 L684.0,907.8 L686.0,907.8 L688.0,907.8 L690.0,907.9 L692.0,907.9 L694.0,907.9 L696.0,907.9 L698.0,907.9 L700.0,907.9 L702.0,907.9 L704.0,908.0 L706.0,908.0 L708.0,908.0 L710.0,908.0 L712.0,908.0 L714.0,908.0 L716.0,908.0 L718.0,908.0 L720.0,908.1 L722.0,908.1 L724.0,908.1 L726.0,908.1 L728.0,908.1 L730.0,908.1 L732.0,908.1 L734.0,908.1 L736.0,908.1 L738.0,908.1 L740.0,908.2 L742.0,908.2 L744.0,908.2 L746.0,908.2 L748.0,908.2 L750.0,908.2 L752.0,908.2 L754.0,908.2 L756.0,908.2 L758.0,908.2 L760.0,908.2 L762.0,908.2 L764.0,908.2 L766.0,908.2 L768.0,908.3 L770.0,908.3 L772.0,908.3 L774.0,908.3 L776.0,908.3 L778.0,908.3 L780.0,908.3 L782.0,908.3 L784.0,908.3 L786.0,908.3 L788.0,908.3 L790.0,908.3 L792.0,908.3 L794.0,908.3 L796.0,908.3 L798.0,908.3 L800.0,908.3 L802.0,908.3 L802.0,913.0 Z" fill="#ff00ff" fill-opacity="0.4"/>
<path d="M150.0,908.3 L151.5,908.3 L153.0,908.3 L154.5,908.3 L156.0,908.3 L157.5,908.3 L159.0,908.2 L160.5,908.2 L162.0,908.2 L163.5,908.2 L165.0,908.1 L166.5,908.1 L168.0,908.1 L169.5,908.1 L171.0,908.0 L172.5,908.0 L174.0,907.9 L175.5,907.9 L177.0,907.8 L178.5,907.8 L180.0,907.7 L181.5,907.7 L183.0,907.6 L184.5,907.6 L186.0,907.5 L187.5,907.4 L189.0,907.4 L190.5,907.3 L192.0,907.3 L193.5,907.2 L195.0,907.1 L196.5,907.0 L198.0,907.0 L199.5,906.9 L201.0,906.8 L202.5,906.7 L204.0,906.7 L205.5,906.6 L207.0,906.5 L208.5,906.4 L210.0,906.3 L211.5,906.2 L213.0,906.2 L214.5,906.1 L216.0,906.0 L217.5,905.9 L219.0,905.8 L220.5,905.7 L222.0,905.6 L223.5,905.5 L225.0,905.5 L226.5,905.4 L228.0,905.3 L229.5,905.2 L231.0,905.1 L232.5,905.0 L234.0,904.9 L235.5,904.8 L237.0,904.7 L238.5,904.6 L240.0,904.5 L241.5,904.4 L243.0,904.2 L244.5,904.1 L246.0,904.0 L247.5,903.8 L249.0,903.7 L250.5,903.5 L252.0,903.4 L253.5,903.2 L255.0,903.1 L256.5,902.9 L258.0,902.7 L259.5,902.5 L261.0,902.3 L262.5,902.1 L264.0,901.9 L265.5,901.7 L267.0,901.5 L268.5,901.3 L270.0,901.1 L271.5,900.8 L273.0,900.6 L274.5,900.3 L276.0,900.1 L277.5,899.8 L279.0,899.4 L280.5,899.1 L282.0,898.7 L283.5,898.3 L285.0,897.9 L286.5,897.5 L288.0,897.0 L289.5,896.5 L291.0,896.0 L292.5,895.5 L294.0,895.0 L295.5,894.5 L297.0,893.9 L298.5,893.3 L300.0,892.7 L301.5,892.0 L303.0,891.3 L304.5,890.5 L306.0,889.7 L307.5,888.9 L309.0,888.0 L310.5,887.0 L312.0,886.0 L313.5,884.9 L315.0,883.7 L316.5,882.3 L318.0,880.6 L319.5,878.6 L321.0,876.4 L322.5,874.1 L324.0,871.7 L325.5,869.3 L327.0,867.0 L328.5,864.7 L330.0,862.2 L331.5,859.7 L333.0,857.2 L334.5,854.6 L336.0,852.1 L337.5,849.7 L339.0,847.3 L340.5,845.1 L342.0,842.8 L343.5,840.5 L345.0,838.2 L346.5,836.1 L348.0,834.1 L349.5,832.3 L351.0,830.8 L352.5,829.6 L354.0,828.6 L355.5,827.5 L357.0,826.6 L358.5,825.7 L360.0,825.0 L361.5,824.4 L363.0,824.1 L364.5,824.0 L366.0,824.2 L367.5,824.7 L369.0,825.4 L370.5,826.3 L372.0,827.3 L373.5,828.5 L375.0,829.7 L376.5,830.9 L378.0,832.3 L379.5,834.1 L381.0,836.1 L382.5,838.4 L384.0,840.7 L385.5,843.0 L387.0,845.3 L388.5,847.4 L390.0,849.2 L391.5,851.1 L393.0,852.8 L394.5,854.6 L396.0,856.3 L397.5,858.0 L399.0,859.6 L400.5,861.2 L402.0,862.7 L403.5,864.3 L405.0,865.8 L406.5,867.3 L408.0,868.8 L409.5,870.2 L411.0,871.6 L412.5,873.0 L414.0,874.3 L415.5,875.5 L417.0,876.7 L418.5,877.9 L420.0,879.0 L421.5,880.0 L423.0,881.1 L424.5,882.1 L426.0,883.0 L427.5,884.0 L429.0,884.9 L430.5,885.8 L432.0,886.7 L433.5,887.5 L435.0,888.3 L436.5,889.1 L438.0,889.8 L439.5,890.5 L441.0,891.2 L442.5,891.9 L444.0,892.6 L445.5,893.2 L447.0,893.9 L448.5,894.5 L450.0,895.1 L451.5,895.6 L453.0,896.2 L454.5,896.7 L456.0,897.2 L457.5,897.6 L459.0,898.0 L460.5,898.4 L462.0,898.8 L463.5,899.1 L465.0,899.5 L466.5,899.8 L468.0,900.1 L469.5,900.4 L471.0,900.7 L472.5,901.0 L474.0,901.2 L475.5,901.5 L477.0,901.7 L478.5,901.9 L480.0,902.0 L481.5,902.2 L483.0,902.4 L484.5,902.5 L486.0,902.7 L487.5,902.8 L489.0,903.0 L490.5,903.1 L492.0,903.2 L493.5,903.4 L495.0,903.5 L496.5,903.6 L498.0,903.7 L499.5,903.8 L501.0,904.0 L502.5,904.1 L504.0,904.2 L505.5,904.3 L507.0,904.4 L508.5,904.4 L510.0,904.5 L511.5,904.6 L513.0,904.7 L514.5,904.8 L516.0,904.8 L517.5,904.9 L519.0,905.0 L520.5,905.0 L522.0,905.1 L523.5,905.1 L525.0,905.2 L526.5,905.2 L528.0,905.3 L529.5,905.4 L531.0,905.4 L532.5,905.5 L534.0,905.5 L535.5,905.6 L537.0,905.6 L538.5,905.7 L540.0,905.7 L541.5,905.8 L543.0,905.8 L544.5,905.9 L546.0,905.9 L547.5,905.9 L549.0,906.0 L550.5,906.0 L552.0,906.1 L553.5,906.1 L555.0,906.2 L556.5,906.2 L558.0,906.2 L559.5,906.3 L561.0,906.3 L562.5,906.3 L564.0,906.4 L565.5,906.4 L567.0,906.4 L568.5,906.5 L570.0,906.5 L571.5,906.5 L573.0,906.6 L574.5,906.6 L576.0,906.6 L577.5,906.7 L579.0,906.7 L580.5,906.7 L582.0,906.7 L583.5,906.8 L585.0,906.8 L586.5,906.8 L588.0,906.8 L589.5,906.9 L591.0,906.9 L592.5,906.9 L594.0,906.9 L595.5,906.9 L597.0,907.0 L598.5,907.0 L600.0,907.0 L601.5,907.0 L603.0,907.0 L604.5,907.1 L606.0,907.1 L607.5,907.1 L609.0,907.1 L610.5,907.1 L612.0,907.1 L613.5,907.1 L615.0,907.2 L616.5,907.2 L618.0,907.2 L619.5,907.2 L621.0,907.2 L622.5,907.2 L624.0,907.3 L625.5,907.3 L627.0,907.3 L628.5,907.3 L630.0,907.3 L631.5,907.3 L633.0,907.4 L634.5,907.4 L636.0,907.4 L637.5,907.4 L639.0,907.4 L640.5,907.4 L642.0,907.4 L643.5,907.5 L645.0,907.5 L646.5,907.5 L648.0,907.5 L649.5,907.5 L651.0,907.5 L652.5,907.5 L654.0,907.6 L655.5,907.6 L657.0,907.6 L658.5,907.6 L660.0,907.6 L661.5,907.6 L663.0,907.6 L664.5,907.6 L666.0,907.7 L667.5,907.7 L669.0,907.7 L670.5,907.7 L672.0,907.7 L673.5,907.7 L675.0,907.7 L676.5,907.7 L678.0,907.8 L679.5,907.8 L681.0,907.8 L682.5,907.8 L684.0,907.8 L685.5,907.8 L687.0,907.8 L688.5,907.8 L690.0,907.9 L691.5,907.9 L693.0,907.9 L694.5,907.9 L696.0,907.9 L697.5,907.9 L699.0,907.9 L700.5,907.9 L702.0,907.9 L703.5,907.9 L705.0,908.0 L706.5,908.0 L708.0,908.0 L709.5,908.0 L711.0,908.0 L712.5,908.0 L714.0,908.0 L715.5,908.0 L717.0,908.0 L718.5,908.0 L720.0,908.1 L721.5,908.1 L723.0,908.1 L724.5,908.1 L726.0,908.1 L727.5,908.1 L729.0,908.1 L730.5,908.1 L732.0,908.1 L733.5,908.1 L735.0,908.1 L736.5,908.1 L738.0,908.1 L739.5,908.2 L741.0,908.2 L742.5,908.2 L744.0,908.2 L745.5,908.2 L747.0,908.2 L748.5,908.2 L750.0,908.2 L751.5,908.2 L753.0,908.2 L754.5,908.2 L756.0,908.2 L757.5,908.2 L759.0,908.2 L760.5,908.2 L762.0,908.2 L763.5,908.2 L765.0,908.2 L766.5,908.3 L768.0,908.3 L769.5,908.3 L771.0,908.3 L772.5,908.3 L774.0,908.3 L775.5,908.3 L777.0,908.3 L778.5,908.3 L780.0,908.3 L781.5,908.3 L783.0,908.3 L784.5,908.3 L786.0,908.3 L787.5,908.3 L789.0,908.3 L790.5,908.3 L792.0,908.3 L793.5,908.3 L795.0,908.3 L796.5,908.3 L798.0,908.3 L799.5,908.3 L801.0,908.3" fill="none" stroke="#ff00ff" stroke-width="2.4" stroke-dasharray="11.5 11"/>
<g><use href="#c" x="153.3" y="851.7"/><use href="#c" x="155.3" y="843.8"/><use href="#c" x="157.3" y="835.8"/><use href="#c" x="159.3" y="827.5"/><use href="#c" x="161.3" y="820.1"/><use href="#c" x="163.3" y="812.8"/><use href="#c" x="165.3" y="805.0"/><use href="#c" x="167.3" y="795.2"/><use href="#c" x="169.3" y="785.6"/><use href="#c" x="171.3" y="776.3"/><use href="#c" x="173.3" y="767.0"/><use href="#c" x="175.3" y="760.4"/><use href="#c" x="177.3" y="755.0"/><use href="#c" x="179.3" y="749.6"/><use href="#c" x="181.3" y="744.9"/><use href="#c" x="183.3" y="740.9"/><use href="#c" x="185.3" y="737.7"/><use href="#c" x="187.3" y="735.2"/><use href="#c" x="189.3" y="732.8"/><use href="#c" x="191.3" y="730.8"/><use href="#c" x="193.3" y="729.0"/><use href="#c" x="195.3" y="727.5"/><use href="#c" x="197.3" y="726.1"/><use href="#c" x="199.3" y="724.8"/><use href="#c" x="201.3" y="723.7"/><use href="#c" x="203.3" y="723.2"/><use href="#c" x="205.3" y="724.1"/><use href="#c" x="207.3" y="726.2"/><use href="#c" x="209.3" y="728.3"/><use href="#c" x="211.3" y="729.6"/><use href="#c" x="213.3" y="730.8"/><use href="#c" x="215.3" y="732.1"/><use href="#c" x="217.3" y="733.6"/><use href="#c" x="219.3" y="735.4"/><use href="#c" x="221.3" y="737.2"/><use href="#c" x="223.3" y="738.8"/><use href="#c" x="225.3" y="739.1"/><use href="#c" x="227.3" y="738.6"/><use href="#c" x="229.3" y="738.0"/><use href="#c" x="231.3" y="737.8"/><use href="#c" x="233.3" y="738.6"/><use href="#c" x="235.3" y="739.9"/><use href="#c" x="237.3" y="741.4"/><use href="#c" x="239.3" y="743.3"/><use href="#c" x="241.3" y="745.6"/><use href="#c" x="243.3" y="748.5"/><use href="#c" x="245.3" y="752.0"/><use href="#c" x="247.3" y="755.8"/><use href="#c" x="249.3" y="759.4"/><use href="#c" x="251.3" y="762.3"/><use href="#c" x="253.3" y="764.7"/><use href="#c" x="255.3" y="766.7"/><use href="#c" x="257.3" y="768.1"/><use href="#c" x="259.3" y="768.4"/><use href="#c" x="261.4" y="767.2"/><use href="#c" x="263.4" y="765.8"/><use href="#c" x="265.4" y="765.3"/><use href="#c" x="267.5" y="766.1"/><use href="#c" x="269.5" y="767.6"/><use href="#c" x="271.5" y="769.5"/><use href="#c" x="273.6" y="771.8"/><use href="#c" x="275.6" y="774.5"/><use href="#c" x="277.7" y="778.1"/><use href="#c" x="279.8" y="781.9"/><use href="#c" x="281.8" y="784.7"/><use href="#c" x="283.9" y="786.1"/><use href="#c" x="286.0" y="787.0"/><use href="#c" x="288.1" y="787.4"/><use href="#c" x="290.1" y="787.2"/><use href="#c" x="292.2" y="786.7"/><use href="#c" x="294.3" y="786.0"/><use href="#c" x="296.4" y="785.2"/><use href="#c" x="298.5" y="784.2"/><use href="#c" x="300.6" y="783.0"/><use href="#c" x="302.8" y="781.6"/><use href="#c" x="304.9" y="780.0"/><use href="#c" x="307.0" y="778.3"/><use href="#c" x="309.1" y="776.5"/><use href="#c" x="311.3" y="774.5"/><use href="#c" x="313.4" y="772.6"/><use href="#c" x="315.6" y="770.4"/><use href="#c" x="317.7" y="768.1"/><use href="#c" x="319.9" y="765.5"/><use href="#c" x="322.0" y="762.6"/><use href="#c" x="324.2" y="759.4"/><use href="#c" x="326.3" y="755.8"/><use href="#c" x="328.5" y="752.0"/><use href="#c" x="330.7" y="748.0"/><use href="#c" x="332.9" y="743.6"/><use href="#c" x="335.1" y="739.0"/><use href="#c" x="337.3" y="734.1"/><use href="#c" x="339.5" y="728.8"/><use href="#c" x="341.7" y="723.2"/><use href="#c" x="343.9" y="717.5"/><use href="#c" x="346.1" y="711.8"/><use href="#c" x="348.3" y="706.4"/><use href="#c" x="350.5" y="701.0"/><use href="#c" x="352.8" y="696.0"/><use href="#c" x="355.0" y="691.5"/><use href="#c" x="357.2" y="688.2"/><use href="#c" x="359.5" y="686.5"/><use href="#c" x="361.7" y="686.5"/><use href="#c" x="364.0" y="687.1"/><use href="#c" x="366.2" y="687.6"/><use href="#c" x="368.5" y="688.4"/><use href="#c" x="370.8" y="689.3"/><use href="#c" x="373.0" y="690.0"/><use href="#c" x="375.3" y="690.1"/><use href="#c" x="377.6" y="689.7"/><use href="#c" x="379.9" y="689.2"/><use href="#c" x="382.2" y="688.5"/><use href="#c" x="384.5" y="687.3"/><use href="#c" x="386.8" y="686.2"/><use href="#c" x="389.1" y="685.8"/><use href="#c" x="391.4" y="686.7"/><use href="#c" x="393.8" y="688.2"/><use href="#c" x="396.1" y="689.9"/><use href="#c" x="398.4" y="691.6"/><use href="#c" x="400.7" y="693.5"/><use href="#c" x="403.1" y="694.8"/><use href="#c" x="405.4" y="695.1"/><use href="#c" x="407.8" y="694.1"/><use href="#c" x="410.1" y="692.5"/><use href="#c" x="412.5" y="690.8"/><use href="#c" x="414.9" y="689.0"/><use href="#c" x="417.3" y="687.1"/><use href="#c" x="419.6" y="685.4"/><use href="#c" x="422.0" y="684.2"/><use href="#c" x="424.4" y="683.4"/><use href="#c" x="426.8" y="682.8"/><use href="#c" x="429.2" y="681.9"/><use href="#c" x="431.6" y="680.4"/><use href="#c" x="434.0" y="678.5"/><use href="#c" x="436.4" y="676.5"/><use href="#c" x="438.9" y="674.6"/><use href="#c" x="441.3" y="673.0"/><use href="#c" x="443.7" y="671.7"/><use href="#c" x="446.2" y="670.6"/><use href="#c" x="448.6" y="669.3"/><use href="#c" x="451.1" y="667.6"/><use href="#c" x="453.5" y="665.6"/><use href="#c" x="456.0" y="663.4"/><use href="#c" x="458.5" y="661.4"/><use href="#c" x="460.9" y="659.8"/><use href="#c" x="463.4" y="658.6"/><use href="#c" x="465.9" y="657.6"/><use href="#c" x="468.4" y="656.7"/><use href="#c" x="470.9" y="655.5"/><use href="#c" x="473.4" y="654.0"/><use href="#c" x="475.9" y="652.4"/><use href="#c" x="478.4" y="650.9"/><use href="#c" x="480.9" y="649.9"/><use href="#c" x="483.5" y="649.3"/><use href="#c" x="486.0" y="649.1"/><use href="#c" x="488.5" y="648.8"/><use href="#c" x="491.1" y="648.2"/><use href="#c" x="493.6" y="647.4"/><use href="#c" x="496.2" y="646.5"/><use href="#c" x="498.7" y="645.5"/><use href="#c" x="501.3" y="644.8"/><use href="#c" x="503.9" y="643.3"/><use href="#c" x="506.4" y="643.1"/><use href="#c" x="509.0" y="644.5"/><use href="#c" x="511.6" y="646.4"/><use href="#c" x="514.2" y="648.1"/><use href="#c" x="516.8" y="649.5"/><use href="#c" x="519.4" y="650.8"/><use href="#c" x="522.0" y="651.6"/><use href="#c" x="524.6" y="652.2"/><use href="#c" x="527.3" y="652.8"/><use href="#c" x="529.9" y="653.7"/><use href="#c" x="532.5" y="655.0"/><use href="#c" x="535.2" y="657.7"/><use href="#c" x="537.8" y="660.8"/><use href="#c" x="540.5" y="663.6"/><use href="#c" x="543.1" y="665.1"/><use href="#c" x="545.8" y="665.2"/><use href="#c" x="548.5" y="665.0"/><use href="#c" x="551.2" y="665.0"/><use href="#c" x="553.8" y="665.1"/><use href="#c" x="556.5" y="666.5"/><use href="#c" x="559.2" y="669.2"/><use href="#c" x="561.9" y="671.9"/><use href="#c" x="564.6" y="674.6"/><use href="#c" x="567.4" y="677.4"/><use href="#c" x="570.1" y="680.1"/><use href="#c" x="572.8" y="682.4"/><use href="#c" x="575.5" y="683.2"/><use href="#c" x="578.3" y="682.4"/><use href="#c" x="581.0" y="681.5"/><use href="#c" x="583.8" y="681.1"/><use href="#c" x="586.5" y="681.0"/><use href="#c" x="589.3" y="682.0"/><use href="#c" x="592.0" y="684.0"/><use href="#c" x="594.8" y="686.8"/><use href="#c" x="597.5" y="689.7"/><use href="#c" x="600.3" y="692.8"/><use href="#c" x="603.0" y="696.0"/><use href="#c" x="605.8" y="699.2"/><use href="#c" x="608.5" y="702.4"/><use href="#c" x="611.3" y="705.8"/><use href="#c" x="614.0" y="709.8"/><use href="#c" x="616.8" y="713.9"/><use href="#c" x="619.5" y="718.0"/><use href="#c" x="622.3" y="722.2"/><use href="#c" x="625.0" y="726.5"/><use href="#c" x="627.8" y="731.2"/><use href="#c" x="630.5" y="735.8"/><use href="#c" x="633.3" y="740.0"/><use href="#c" x="636.0" y="744.0"/><use href="#c" x="638.8" y="747.9"/><use href="#c" x="641.5" y="751.5"/><use href="#c" x="644.3" y="755.0"/><use href="#c" x="647.0" y="758.6"/><use href="#c" x="649.8" y="762.1"/><use href="#c" x="652.5" y="765.7"/><use href="#c" x="655.3" y="768.2"/><use href="#c" x="658.0" y="769.5"/><use href="#c" x="660.8" y="770.4"/><use href="#c" x="663.5" y="770.8"/><use href="#c" x="666.3" y="771.0"/><use href="#c" x="669.0" y="771.6"/><use href="#c" x="671.8" y="773.8"/><use href="#c" x="674.5" y="777.6"/><use href="#c" x="677.3" y="783.8"/><use href="#c" x="680.0" y="791.7"/><use href="#c" x="682.8" y="800.7"/><use href="#c" x="685.5" y="805.6"/><use href="#c" x="688.3" y="806.6"/><use href="#c" x="691.0" y="804.0"/><use href="#c" x="693.8" y="797.5"/><use href="#c" x="696.5" y="791.4"/><use href="#c" x="699.3" y="788.3"/><use href="#c" x="702.0" y="788.3"/><use href="#c" x="704.8" y="792.7"/><use href="#c" x="707.5" y="801.8"/><use href="#c" x="710.3" y="808.2"/><use href="#c" x="713.0" y="811.1"/><use href="#c" x="715.8" y="810.3"/><use href="#c" x="718.5" y="806.0"/><use href="#c" x="721.3" y="799.2"/><use href="#c" x="724.0" y="790.0"/><use href="#c" x="726.8" y="782.3"/><use href="#c" x="729.5" y="776.5"/><use href="#c" x="732.3" y="772.7"/><use href="#c" x="735.0" y="770.2"/><use href="#c" x="737.8" y="769.0"/><use href="#c" x="740.5" y="768.0"/><use href="#c" x="743.3" y="767.1"/><use href="#c" x="746.0" y="766.1"/><use href="#c" x="748.8" y="765.1"/><use href="#c" x="751.5" y="763.0"/><use href="#c" x="754.5" y="751.5"/><use href="#c" x="757.0" y="737.0"/><use href="#c" x="759.5" y="720.0"/><use href="#c" x="762.0" y="706.0"/><use href="#c" x="764.0" y="696.6"/><use href="#c" x="766.5" y="693.0"/><use href="#c" x="769.4" y="689.2"/><use href="#c" x="772.4" y="684.3"/><use href="#c" x="775.3" y="677.5"/><use href="#c" x="778.3" y="666.7"/><use href="#c" x="781.2" y="653.9"/><use href="#c" x="783.6" y="640.7"/><use href="#c" x="786.6" y="626.5"/><use href="#c" x="789.0" y="610.8"/><use href="#c" x="790.6" y="592.8"/><use href="#c" x="793.0" y="566.0"/><use href="#c" x="794.7" y="540.2"/><use href="#c" x="795.9" y="519.6"/></g>
<path d="M150.0,832.0 L151.5,828.0 L153.0,824.1 L154.5,820.3 L156.0,816.4 L157.5,812.6 L159.0,808.7 L160.5,804.9 L162.0,801.0 L163.5,797.1 L165.0,793.2 L166.5,789.3 L168.0,785.4 L169.5,781.5 L171.0,777.7 L172.5,773.8 L174.0,770.2 L175.5,766.6 L177.0,763.2 L178.5,759.8 L180.0,756.5 L181.5,753.2 L183.0,750.0 L184.5,746.9 L186.0,743.9 L187.5,741.1 L189.0,738.4 L190.5,736.2 L192.0,734.2 L193.5,732.4 L195.0,730.8 L196.5,729.3 L198.0,728.0 L199.5,726.9 L201.0,726.1 L202.5,725.4 L204.0,724.9 L205.5,724.5 L207.0,724.3 L208.5,724.5 L210.0,724.8 L211.5,725.4 L213.0,726.1 L214.5,726.9 L216.0,727.7 L217.5,728.8 L219.0,730.1 L220.5,731.4 L222.0,732.8 L223.5,734.3 L225.0,735.8 L226.5,737.3 L228.0,738.9 L229.5,740.5 L231.0,742.2 L232.5,743.8 L234.0,745.4 L235.5,747.0 L237.0,748.6 L238.5,750.1 L240.0,751.7 L241.5,753.2 L243.0,754.7 L244.5,756.2 L246.0,757.7 L247.5,759.1 L249.0,760.5 L250.5,762.0 L252.0,763.3 L253.5,764.6 L255.0,765.8 L256.5,767.0 L258.0,768.1 L259.5,769.2 L261.0,770.3 L262.5,771.3 L264.0,772.2 L265.5,773.1 L267.0,773.9 L268.5,774.7 L270.0,775.4 L271.5,776.1 L273.0,776.7 L274.5,777.2 L276.0,777.7 L277.5,778.2 L279.0,778.5 L280.5,778.8 L282.0,779.1 L283.5,779.2 L285.0,779.3 L286.5,779.4 L288.0,779.4 L289.5,779.3 L291.0,779.1 L292.5,778.9 L294.0,778.6 L295.5,778.3 L297.0,777.9 L298.5,777.4 L300.0,776.9 L301.5,776.3 L303.0,775.6 L304.5,774.9 L306.0,774.1 L307.5,773.2 L309.0,772.2 L310.5,771.2 L312.0,770.2 L313.5,769.1 L315.0,768.0 L316.5,766.7 L318.0,765.3 L319.5,763.8 L321.0,762.2 L322.5,760.4 L324.0,758.5 L325.5,756.4 L327.0,754.1 L328.5,751.7 L330.0,749.2 L331.5,746.5 L333.0,743.7 L334.5,740.7 L336.0,737.7 L337.5,734.6 L339.0,731.3 L340.5,728.0 L342.0,724.6 L343.5,721.2 L345.0,717.9 L346.5,714.6 L348.0,711.3 L349.5,708.2 L351.0,705.1 L352.5,702.2 L354.0,699.4 L355.5,696.8 L357.0,694.5 L358.5,692.7 L360.0,691.2 L361.5,690.1 L363.0,689.2 L364.5,688.5 L366.0,687.9 L367.5,687.5 L369.0,687.2 L370.5,687.0 L372.0,686.8 L373.5,686.9 L375.0,687.1 L376.5,687.4 L378.0,687.7 L379.5,688.1 L381.0,688.5 L382.5,689.0 L384.0,689.4 L385.5,689.9 L387.0,690.3 L388.5,690.6 L390.0,691.0 L391.5,691.4 L393.0,691.7 L394.5,692.1 L396.0,692.4 L397.5,692.6 L399.0,692.8 L400.5,693.0 L402.0,693.0 L403.5,692.9 L405.0,692.6 L406.5,692.2 L408.0,691.7 L409.5,691.1 L411.0,690.5 L412.5,689.9 L414.0,689.3 L415.5,688.7 L417.0,688.0 L418.5,687.4 L420.0,686.7 L421.5,686.0 L423.0,685.4 L424.5,684.7 L426.0,684.0 L427.5,683.2 L429.0,682.5 L430.5,681.7 L432.0,680.8 L433.5,679.9 L435.0,679.0 L436.5,678.1 L438.0,677.1 L439.5,676.1 L441.0,675.1 L442.5,674.1 L444.0,673.1 L445.5,672.0 L447.0,671.0 L448.5,670.0 L450.0,668.9 L451.5,667.9 L453.0,666.9 L454.5,665.9 L456.0,664.9 L457.5,663.9 L459.0,663.0 L460.5,662.0 L462.0,661.1 L463.5,660.1 L465.0,659.2 L466.5,658.3 L468.0,657.5 L469.5,656.7 L471.0,655.9 L472.5,655.2 L474.0,654.6 L475.5,653.9 L477.0,653.3 L478.5,652.7 L480.0,652.2 L481.5,651.7 L483.0,651.2 L484.5,650.8 L486.0,650.4 L487.5,650.0 L489.0,649.7 L490.5,649.4 L492.0,649.1 L493.5,648.9 L495.0,648.7 L496.5,648.6 L498.0,648.5 L499.5,648.4 L501.0,648.5 L502.5,648.5 L504.0,648.6 L505.5,648.8 L507.0,649.0 L508.5,649.3 L510.0,649.6 L511.5,650.0 L513.0,650.4 L514.5,650.9 L516.0,651.4 L517.5,651.9 L519.0,652.4 L520.5,653.0 L522.0,653.6 L523.5,654.3 L525.0,655.0 L526.5,655.7 L528.0,656.5 L529.5,657.3 L531.0,658.2 L532.5,659.1 L534.0,660.1 L535.5,661.1 L537.0,662.1 L538.5,663.2 L540.0,664.4 L541.5,665.6 L543.0,666.7 L544.5,668.0 L546.0,669.2 L547.5,670.5 L549.0,671.9 L550.5,673.3 L552.0,674.7 L553.5,676.1 L555.0,677.5 L556.5,678.9 L558.0,680.4 L559.5,681.8 L561.0,683.2 L562.5,684.6 L564.0,686.0 L565.5,687.4 L567.0,688.8 L568.5,690.2 L570.0,691.6 L571.5,693.0 L573.0,694.4 L574.5,695.7 L576.0,697.1 L577.5,698.5 L579.0,699.8 L580.5,701.2 L582.0,702.5 L583.5,703.9 L585.0,705.2 L586.5,706.6 L588.0,707.9 L589.5,709.3 L591.0,710.6 L592.5,712.0 L594.0,713.3 L595.5,714.6 L597.0,716.0 L598.5,717.3 L600.0,718.6 L601.5,719.9 L603.0,721.2 L604.5,722.4 L606.0,723.6 L607.5,724.8 L609.0,726.0 L610.5,727.2 L612.0,728.3 L613.5,729.4 L615.0,730.5 L616.5,731.6 L618.0,732.6 L619.5,733.6 L621.0,734.6 L622.5,735.5 L624.0,736.4 L625.5,737.3 L627.0,738.2 L628.5,739.0 L630.0,739.8 L631.5,740.6 L633.0,741.4 L634.5,742.2 L636.0,742.9 L637.5,743.6 L639.0,744.3 L640.5,744.9 L642.0,745.5 L643.5,746.2 L645.0,746.8 L646.5,747.5 L648.0,748.1 L649.5,748.8 L651.0,749.5 L652.5,750.1 L654.0,750.8 L655.5,751.5 L657.0,752.2 L658.5,752.9 L660.0,753.6 L661.5,754.3 L663.0,754.9 L664.5,755.6 L666.0,756.2 L667.5,756.8 L669.0,757.4 L670.5,757.9 L672.0,758.5 L673.5,759.0 L675.0,759.5 L676.5,760.0 L678.0,760.4 L679.5,760.8 L681.0,761.2 L682.5,761.6 L684.0,761.9 L685.5,762.3 L687.0,762.6 L688.5,762.9 L690.0,763.2 L691.5,763.5 L693.0,763.8 L694.5,764.0 L696.0,764.2 L697.5,764.4 L699.0,764.5 L700.5,764.5 L702.0,764.5 L703.5,764.5 L705.0,764.5 L706.5,764.4 L708.0,764.3 L709.5,764.2 L711.0,764.2 L712.5,764.1 L714.0,764.0 L715.5,763.9 L717.0,763.7 L718.5,763.6 L720.0,763.4 L721.5,763.2 L723.0,762.9 L724.5,762.5 L726.0,762.0 L727.5,761.5 L729.0,760.9 L730.5,760.3 L732.0,759.6 L733.5,758.8 L735.0,758.0 L736.5,757.1 L738.0,756.1 L739.5,754.9 L741.0,753.7 L742.5,752.4 L744.0,751.0 L745.5,749.5 L747.0,747.9 L748.5,746.1 L750.0,744.2 L751.5,742.2 L753.0,740.0 L754.5,737.7 L756.0,735.3 L757.5,732.8 L759.0,730.0 L760.5,727.1 L762.0,724.1 L763.5,721.0 L765.0,717.9 L766.5,714.7 L768.0,711.5 L769.5,708.2 L771.0,704.8 L772.5,701.2 L774.0,697.3 L775.5,692.6 L777.0,687.7 L778.5,682.1 L780.0,675.2 L781.5,667.3 L783.0,658.8 L784.5,649.5 L786.0,642.1 L787.5,634.7 L789.0,627.1 L790.5,619.6 L792.0,612.1 L793.5,604.5 L795.0,596.5 L796.5,585.0 L798.0,571.2 L799.5,552.4 L801.0,528.8" fill="none" stroke="#f00" stroke-width="4.2" stroke-linejoin="round"/>
</g>
<path d="M152.75,296.92 h7.3 M799.9,296.92 h-7.3" stroke="#000" stroke-width="2.3" fill="none"/>
<path d="M152.75,149.35 h13.6 M799.9,149.35 h-13.6" stroke="#000" stroke-width="2.3" fill="none"/>
<path d="M152.75,779.75 h7.3 M799.9,779.75 h-7.3" stroke="#000" stroke-width="2.3" fill="none"/>
<path d="M152.75,649.20 h13.6 M799.9,649.20 h-13.6" stroke="#000" stroke-width="2.3" fill="none"/>
<path d="M152.75,518.65 h7.3 M799.9,518.65 h-7.3" stroke="#000" stroke-width="2.3" fill="none"/>
<path d="M165.75,444.5 v-7.3 M165.75,0.9 v7.3" stroke="#000" stroke-width="2.3" fill="none"/>
<path d="M218.60,444.5 v-13.6 M218.60,0.9 v13.6" stroke="#000" stroke-width="2.3" fill="none"/>
<path d="M271.45,444.5 v-7.3 M271.45,0.9 v7.3" stroke="#000" stroke-width="2.3" fill="none"/>
<path d="M324.30,444.5 v-7.3 M324.30,0.9 v7.3" stroke="#000" stroke-width="2.3" fill="none"/>
<path d="M377.15,444.5 v-13.6 M377.15,0.9 v13.6" stroke="#000" stroke-width="2.3" fill="none"/>
<path d="M430.00,444.5 v-7.3 M430.00,0.9 v7.3" stroke="#000" stroke-width="2.3" fill="none"/>
<path d="M482.85,444.5 v-7.3 M482.85,0.9 v7.3" stroke="#000" stroke-width="2.3" fill="none"/>
<path d="M535.70,444.5 v-13.6 M535.70,0.9 v13.6" stroke="#000" stroke-width="2.3" fill="none"/>
<path d="M588.55,444.5 v-7.3 M588.55,0.9 v7.3" stroke="#000" stroke-width="2.3" fill="none"/>
<path d="M641.40,444.5 v-7.3 M641.40,0.9 v7.3" stroke="#000" stroke-width="2.3" fill="none"/>
<path d="M694.25,444.5 v-13.6 M694.25,0.9 v13.6" stroke="#000" stroke-width="2.3" fill="none"/>
<path d="M747.10,444.5 v-7.3 M747.10,0.9 v7.3" stroke="#000" stroke-width="2.3" fill="none"/>
<rect x="152.75" y="0.9" width="647.15" height="443.60" fill="none" stroke="#000" stroke-width="2.5"/>
<path d="M165.75,910.3 v-7.3 M165.75,467.4 v7.3" stroke="#000" stroke-width="2.3" fill="none"/>
<path d="M218.60,910.3 v-13.6 M218.60,467.4 v13.6" stroke="#000" stroke-width="2.3" fill="none"/>
<path d="M271.45,910.3 v-7.3 M271.45,467.4 v7.3" stroke="#000" stroke-width="2.3" fill="none"/>
<path d="M324.30,910.3 v-7.3 M324.30,467.4 v7.3" stroke="#000" stroke-width="2.3" fill="none"/>
<path d="M377.15,910.3 v-13.6 M377.15,467.4 v13.6" stroke="#000" stroke-width="2.3" fill="none"/>
<path d="M430.00,910.3 v-7.3 M430.00,467.4 v7.3" stroke="#000" stroke-width="2.3" fill="none"/>
<path d="M482.85,910.3 v-7.3 M482.85,467.4 v7.3" stroke="#000" stroke-width="2.3" fill="none"/>
<path d="M535.70,910.3 v-13.6 M535.70,467.4 v13.6" stroke="#000" stroke-width="2.3" fill="none"/>
<path d="M588.55,910.3 v-7.3 M588.55,467.4 v7.3" stroke="#000" stroke-width="2.3" fill="none"/>
<path d="M641.40,910.3 v-7.3 M641.40,467.4 v7.3" stroke="#000" stroke-width="2.3" fill="none"/>
<path d="M694.25,910.3 v-13.6 M694.25,467.4 v13.6" stroke="#000" stroke-width="2.3" fill="none"/>
<path d="M747.10,910.3 v-7.3 M747.10,467.4 v7.3" stroke="#000" stroke-width="2.3" fill="none"/>
<rect x="152.75" y="467.4" width="647.15" height="442.90" fill="none" stroke="#000" stroke-width="2.5"/>
<text x="139.7" y="456.6" font-size="38" text-anchor="end">0.00</text>
<text x="139.7" y="161.4" font-size="38" text-anchor="end">0.05</text>
<text x="139.7" y="922.4" font-size="38" text-anchor="end">0.00</text>
<text x="139.7" y="661.6" font-size="38" text-anchor="end">0.05</text>
<text x="218.4" y="953.6" font-size="38" text-anchor="middle">3</text>
<text x="376.9" y="953.6" font-size="38" text-anchor="middle">6</text>
<text x="535.5" y="953.6" font-size="38" text-anchor="middle">9</text>
<text x="694.0" y="953.6" font-size="38" text-anchor="middle">12</text>
<text y="1010" font-size="47.7"><tspan x="371.8">h</tspan><tspan x="397" class="sy" font-size="51">ν</tspan><tspan x="434.8">(meV)</tspan></text>
<g transform="translate(43.2,561.1) rotate(-90)"><text font-size="47" y="0"><tspan x="-1" class="sy" font-size="50">σ</tspan><tspan x="26.5">'</tspan><tspan x="48.3">(</tspan><tspan x="63.9" class="sy" font-size="48">Ω</tspan><tspan x="99.5" dy="-22.9" font-size="28.5">-1</tspan><tspan x="124.3" dy="22.9">cm</tspan><tspan x="185.8" dy="-22.9" font-size="28.5">-1</tspan><tspan x="210.3" dy="22.9">)</tspan></text></g>
<text transform="translate(183.2,77.4) scale(1.12,0.95)" class="sy" font-size="52">α</text>
<text y="77.4" font-size="47"><tspan x="211.2">-</tspan><tspan x="227">RuCl</tspan><tspan x="330.3" dy="16" font-size="27">3</tspan></text>
<text x="729.4" y="52" font-size="35.5">(a)</text>
<text x="729.4" y="514.3" font-size="35.5">(b)</text>
<text x="538.7" y="145.1" font-size="35.5" style="fill:#0000ff;stroke:#0000ff">10<tspan dx="5">K</tspan></text>
<text x="442" y="321.2" font-size="34" style="fill:#00ff00;stroke:#00ff00">100<tspan dx="7.2">K</tspan></text>
<text x="485.3" y="413.2" font-size="34">200<tspan dx="6">K</tspan></text>
<text x="577" y="660.3" font-size="35.5" style="fill:#0000ff;stroke:#0000ff">10<tspan dx="5">K</tspan></text>
<text x="203.9" y="545.9" font-size="42">S</text>
<text x="399" y="526.3" font-size="42">C</text>
<text x="498.2" y="584.7" font-size="42">K</text>
<text x="702" y="632.7" font-size="40">P</text>
<rect x="174.5" y="577.8" width="89.3" height="12.5" fill="#82d2ff" stroke="#282828" stroke-width="1.2"/>
<rect x="174.5" y="603.7" width="89.3" height="12.3" fill="#82d2ff" stroke="#282828" stroke-width="1.2"/>
<rect x="329.7" y="542.6" width="89.6" height="12.4" fill="#82d2ff" stroke="#282828" stroke-width="1.2"/>
<rect x="329.7" y="567.6" width="89.6" height="12.5" fill="#82d2ff" stroke="#282828" stroke-width="1.2"/>
<path d="M194.3,568.9 L229.2,568.9" stroke="#f00" stroke-width="2.0" stroke-linecap="round" fill="none"/><path d="M246.6,568.9 L228.2,574.0 L228.2,563.8 Z" fill="#f00"/>
<path d="M247.1,626.1 L211.7,626.1" stroke="#f00" stroke-width="2.0" stroke-linecap="round" fill="none"/><path d="M194.3,626.1 L212.7,621.0 L212.7,631.2 Z" fill="#f00"/>
<path d="M374.2,494.8 L374.2,522.2" stroke="#f00" stroke-width="2.0" stroke-linecap="round" fill="none"/><path d="M374.2,539.6 L369.1,521.2 L379.3,521.2 Z" fill="#f00"/>
<path d="M374.4,628.5 L374.4,600.7" stroke="#f00" stroke-width="2.0" stroke-linecap="round" fill="none"/><path d="M374.4,583.3 L379.5,601.7 L369.3,601.7 Z" fill="#f00"/>
<path d="M510.4,589.2 L510.4,623.4" stroke="#000" stroke-width="2.7" stroke-linecap="round" fill="none"/><path d="M510.4,632.6 L505.0,622.4 L515.8,622.4 Z" fill="#000"/>
<path d="M732.6,626.6 L761.6,633.3" stroke="#000" stroke-width="2.7" stroke-linecap="round" fill="none"/><path d="M771.3,635.5 L759.4,638.1 L761.7,628.0 Z" fill="#000"/>
<path d="M220,648.5 C220.9,660 220.6,672 218.6,679.5 C217.9,682.2 216.4,682.2 215.4,680 L210.6,669.8 C209.6,667.6 207.9,668 207.4,670.5 C206.5,676 206.3,684 206.3,693.5" fill="none" stroke="#000" stroke-width="2.7" stroke-linecap="round" stroke-linejoin="round"/>
<path d="M206.5,702.6 L201.1,692.6 L211.9,692.6 Z" fill="#000"/>
<path d="M365.2,626 C365.3,638 365.6,650 366.6,656 C367.2,659.4 368.8,659.6 369.8,657 L372.8,648 C373.6,645.4 375.2,645.6 375.8,648.5 C376.8,654 377.2,662 377.2,671" fill="none" stroke="#000" stroke-width="2.7" stroke-linecap="round" stroke-linejoin="round"/>
<path d="M377.2,680.2 L371.9,670 L382.5,670 Z" fill="#000"/>
</svg></body></html>
